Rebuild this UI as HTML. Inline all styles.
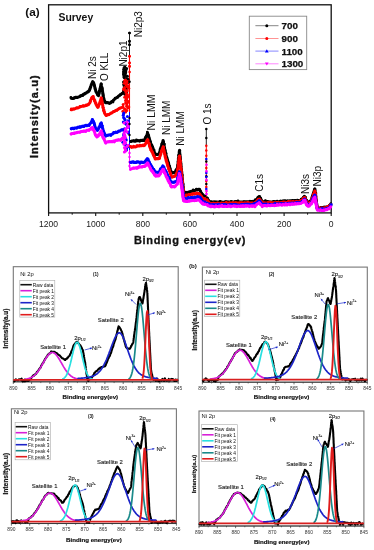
<!DOCTYPE html>
<html><head><meta charset="utf-8"><style>
html,body{margin:0;padding:0;background:#fff;width:374px;height:550px;overflow:hidden}
svg{display:block;will-change:transform}
</style></head><body>
<svg width="374" height="550" viewBox="0 0 374 550">
<rect width="374" height="550" fill="#fff"/>
<rect x="48.6" y="4.8" width="282.59999999999997" height="208.1" fill="none" stroke="#111" stroke-width="1.3"/>
<line x1="48.6" y1="212.9" x2="48.6" y2="216.1" stroke="#111" stroke-width="1.1"/>
<text x="48.6" y="226.5" font-family="Liberation Sans, sans-serif" font-size="8.6" text-anchor="middle" fill="#222">1200</text>
<line x1="95.7" y1="212.9" x2="95.7" y2="216.1" stroke="#111" stroke-width="1.1"/>
<text x="95.7" y="226.5" font-family="Liberation Sans, sans-serif" font-size="8.6" text-anchor="middle" fill="#222">1000</text>
<line x1="142.8" y1="212.9" x2="142.8" y2="216.1" stroke="#111" stroke-width="1.1"/>
<text x="142.8" y="226.5" font-family="Liberation Sans, sans-serif" font-size="8.6" text-anchor="middle" fill="#222">800</text>
<line x1="189.9" y1="212.9" x2="189.9" y2="216.1" stroke="#111" stroke-width="1.1"/>
<text x="189.9" y="226.5" font-family="Liberation Sans, sans-serif" font-size="8.6" text-anchor="middle" fill="#222">600</text>
<line x1="237.0" y1="212.9" x2="237.0" y2="216.1" stroke="#111" stroke-width="1.1"/>
<text x="237.0" y="226.5" font-family="Liberation Sans, sans-serif" font-size="8.6" text-anchor="middle" fill="#222">400</text>
<line x1="284.1" y1="212.9" x2="284.1" y2="216.1" stroke="#111" stroke-width="1.1"/>
<text x="284.1" y="226.5" font-family="Liberation Sans, sans-serif" font-size="8.6" text-anchor="middle" fill="#222">200</text>
<line x1="331.2" y1="212.9" x2="331.2" y2="216.1" stroke="#111" stroke-width="1.1"/>
<text x="331.2" y="226.5" font-family="Liberation Sans, sans-serif" font-size="8.6" text-anchor="middle" fill="#222">0</text>
<line x1="72.2" y1="212.9" x2="72.2" y2="214.70000000000002" stroke="#111" stroke-width="1"/>
<line x1="119.2" y1="212.9" x2="119.2" y2="214.70000000000002" stroke="#111" stroke-width="1"/>
<line x1="166.3" y1="212.9" x2="166.3" y2="214.70000000000002" stroke="#111" stroke-width="1"/>
<line x1="213.4" y1="212.9" x2="213.4" y2="214.70000000000002" stroke="#111" stroke-width="1"/>
<line x1="260.5" y1="212.9" x2="260.5" y2="214.70000000000002" stroke="#111" stroke-width="1"/>
<line x1="307.6" y1="212.9" x2="307.6" y2="214.70000000000002" stroke="#111" stroke-width="1"/>
<text x="190" y="244.3" font-family="Liberation Sans, sans-serif" font-size="11" font-weight="bold" text-anchor="middle" fill="#111" stroke="#111" stroke-width="0.3" letter-spacing="0.7">Binding energy(ev)</text>
<text transform="translate(38.2,116.2) rotate(-90)" font-family="Liberation Sans, sans-serif" font-size="11" font-weight="bold" text-anchor="middle" fill="#111" stroke="#111" stroke-width="0.35" letter-spacing="1.1">Intensity(a.u)</text>
<text x="25.3" y="16.2" font-family="Liberation Sans, sans-serif" font-size="11.8" font-weight="bold" fill="#111">(a)</text>
<text x="58.5" y="21" font-family="Liberation Sans, sans-serif" font-size="10.4" font-weight="bold" fill="#111">Survey</text>
<line x1="129.5" y1="33" x2="129.5" y2="60" stroke="#222" stroke-width="1.0"/>
<line x1="129.5" y1="56" x2="129.5" y2="112" stroke="#f00" stroke-width="1.1"/>
<line x1="129.5" y1="112" x2="129.5" y2="155" stroke="#00f" stroke-width="1.0"/>
<line x1="129.5" y1="150" x2="129.5" y2="168" stroke="#f0f" stroke-width="1.0"/>
<line x1="206.3" y1="129" x2="206.3" y2="146" stroke="#222" stroke-width="1.0"/>
<line x1="206.3" y1="146" x2="206.3" y2="198" stroke="#f00" stroke-width="1.0"/>
<circle cx="124.9" cy="67.0" r="1.5" fill="#000"/>
<circle cx="124.1" cy="67.7" r="1.5" fill="#000"/>
<circle cx="126.6" cy="68.4" r="1.5" fill="#000"/>
<circle cx="123.7" cy="69.2" r="1.5" fill="#000"/>
<circle cx="126.0" cy="69.9" r="1.5" fill="#000"/>
<circle cx="125.1" cy="70.6" r="1.5" fill="#000"/>
<circle cx="123.6" cy="71.3" r="1.5" fill="#000"/>
<circle cx="125.8" cy="72.0" r="1.5" fill="#000"/>
<circle cx="123.5" cy="72.7" r="1.5" fill="#000"/>
<circle cx="125.5" cy="73.5" r="1.5" fill="#000"/>
<circle cx="123.6" cy="74.2" r="1.5" fill="#000"/>
<circle cx="123.8" cy="74.9" r="1.5" fill="#000"/>
<circle cx="125.4" cy="75.6" r="1.5" fill="#000"/>
<circle cx="127.4" cy="76.3" r="1.5" fill="#000"/>
<circle cx="123.9" cy="77.1" r="1.5" fill="#000"/>
<circle cx="124.4" cy="77.8" r="1.5" fill="#000"/>
<circle cx="126.4" cy="78.5" r="1.5" fill="#000"/>
<circle cx="128.0" cy="79.2" r="1.5" fill="#000"/>
<circle cx="126.2" cy="79.9" r="1.5" fill="#000"/>
<circle cx="125.3" cy="80.6" r="1.5" fill="#000"/>
<circle cx="128.2" cy="81.4" r="1.5" fill="#000"/>
<circle cx="123.5" cy="82.1" r="1.5" fill="#000"/>
<circle cx="127.6" cy="82.8" r="1.5" fill="#000"/>
<circle cx="124.7" cy="83.5" r="1.5" fill="#000"/>
<circle cx="124.0" cy="84.2" r="1.5" fill="#000"/>
<circle cx="123.9" cy="84.9" r="1.5" fill="#000"/>
<circle cx="124.8" cy="85.7" r="1.5" fill="#000"/>
<circle cx="127.4" cy="86.4" r="1.5" fill="#000"/>
<circle cx="124.2" cy="87.1" r="1.5" fill="#000"/>
<circle cx="126.2" cy="87.8" r="1.5" fill="#000"/>
<circle cx="126.5" cy="88.5" r="1.5" fill="#000"/>
<circle cx="125.2" cy="89.3" r="1.5" fill="#000"/>
<circle cx="126.0" cy="90.0" r="1.5" fill="#000"/>
<circle cx="123.6" cy="90.7" r="1.5" fill="#000"/>
<circle cx="123.6" cy="91.4" r="1.5" fill="#000"/>
<circle cx="124.3" cy="92.1" r="1.5" fill="#000"/>
<circle cx="126.7" cy="92.8" r="1.5" fill="#000"/>
<circle cx="125.4" cy="93.6" r="1.5" fill="#000"/>
<circle cx="124.9" cy="94.3" r="1.5" fill="#000"/>
<circle cx="126.2" cy="95.0" r="1.5" fill="#000"/>
<circle cx="125.5" cy="80.0" r="1.5" fill="#f00"/>
<circle cx="124.6" cy="80.8" r="1.5" fill="#f00"/>
<circle cx="127.6" cy="81.6" r="1.5" fill="#f00"/>
<circle cx="127.0" cy="82.5" r="1.5" fill="#f00"/>
<circle cx="124.3" cy="83.3" r="1.5" fill="#f00"/>
<circle cx="126.2" cy="84.1" r="1.5" fill="#f00"/>
<circle cx="126.0" cy="84.9" r="1.5" fill="#f00"/>
<circle cx="128.1" cy="85.7" r="1.5" fill="#f00"/>
<circle cx="127.2" cy="86.6" r="1.5" fill="#f00"/>
<circle cx="124.5" cy="87.4" r="1.5" fill="#f00"/>
<circle cx="128.7" cy="88.2" r="1.5" fill="#f00"/>
<circle cx="123.5" cy="89.0" r="1.5" fill="#f00"/>
<circle cx="125.3" cy="89.8" r="1.5" fill="#f00"/>
<circle cx="127.3" cy="90.7" r="1.5" fill="#f00"/>
<circle cx="123.7" cy="91.5" r="1.5" fill="#f00"/>
<circle cx="125.7" cy="92.3" r="1.5" fill="#f00"/>
<circle cx="123.0" cy="93.1" r="1.5" fill="#f00"/>
<circle cx="126.8" cy="93.9" r="1.5" fill="#f00"/>
<circle cx="127.4" cy="94.8" r="1.5" fill="#f00"/>
<circle cx="126.2" cy="95.6" r="1.5" fill="#f00"/>
<circle cx="128.1" cy="96.4" r="1.5" fill="#f00"/>
<circle cx="124.7" cy="97.2" r="1.5" fill="#f00"/>
<circle cx="127.0" cy="98.1" r="1.5" fill="#f00"/>
<circle cx="126.4" cy="98.9" r="1.5" fill="#f00"/>
<circle cx="126.3" cy="99.7" r="1.5" fill="#f00"/>
<circle cx="125.5" cy="100.5" r="1.5" fill="#f00"/>
<circle cx="127.8" cy="101.3" r="1.5" fill="#f00"/>
<circle cx="128.5" cy="102.2" r="1.5" fill="#f00"/>
<circle cx="125.6" cy="103.0" r="1.5" fill="#f00"/>
<circle cx="126.8" cy="103.8" r="1.5" fill="#f00"/>
<circle cx="123.2" cy="104.6" r="1.5" fill="#f00"/>
<circle cx="127.0" cy="105.4" r="1.5" fill="#f00"/>
<circle cx="126.7" cy="106.3" r="1.5" fill="#f00"/>
<circle cx="128.8" cy="107.1" r="1.5" fill="#f00"/>
<circle cx="127.7" cy="107.9" r="1.5" fill="#f00"/>
<circle cx="124.5" cy="108.7" r="1.5" fill="#f00"/>
<circle cx="125.1" cy="109.5" r="1.5" fill="#f00"/>
<circle cx="126.8" cy="110.4" r="1.5" fill="#f00"/>
<circle cx="122.9" cy="111.2" r="1.5" fill="#f00"/>
<circle cx="125.6" cy="112.0" r="1.5" fill="#f00"/>
<circle cx="123.8" cy="113.0" r="1.5" fill="#00f"/>
<circle cx="123.5" cy="114.1" r="1.5" fill="#00f"/>
<circle cx="123.2" cy="115.2" r="1.5" fill="#00f"/>
<circle cx="127.4" cy="116.4" r="1.5" fill="#00f"/>
<circle cx="123.6" cy="117.5" r="1.5" fill="#00f"/>
<circle cx="124.3" cy="118.6" r="1.5" fill="#00f"/>
<circle cx="125.1" cy="119.7" r="1.5" fill="#00f"/>
<circle cx="128.0" cy="120.8" r="1.5" fill="#00f"/>
<circle cx="123.3" cy="122.0" r="1.5" fill="#00f"/>
<circle cx="125.5" cy="123.1" r="1.5" fill="#00f"/>
<circle cx="126.1" cy="124.2" r="1.5" fill="#00f"/>
<circle cx="128.1" cy="125.3" r="1.5" fill="#00f"/>
<circle cx="127.7" cy="126.5" r="1.5" fill="#00f"/>
<circle cx="128.0" cy="127.6" r="1.5" fill="#00f"/>
<circle cx="124.5" cy="128.7" r="1.5" fill="#00f"/>
<circle cx="125.3" cy="129.8" r="1.5" fill="#00f"/>
<circle cx="125.0" cy="130.9" r="1.5" fill="#00f"/>
<circle cx="128.1" cy="132.1" r="1.5" fill="#00f"/>
<circle cx="128.5" cy="133.2" r="1.5" fill="#00f"/>
<circle cx="123.7" cy="134.3" r="1.5" fill="#00f"/>
<circle cx="123.9" cy="135.4" r="1.5" fill="#00f"/>
<circle cx="124.2" cy="136.5" r="1.5" fill="#00f"/>
<circle cx="124.2" cy="137.7" r="1.5" fill="#00f"/>
<circle cx="125.7" cy="138.8" r="1.5" fill="#00f"/>
<circle cx="126.3" cy="139.9" r="1.5" fill="#00f"/>
<circle cx="124.4" cy="141.0" r="1.5" fill="#00f"/>
<circle cx="122.8" cy="142.2" r="1.5" fill="#00f"/>
<circle cx="125.3" cy="143.3" r="1.5" fill="#00f"/>
<circle cx="125.0" cy="144.4" r="1.5" fill="#00f"/>
<circle cx="126.2" cy="145.5" r="1.5" fill="#00f"/>
<circle cx="128.5" cy="146.6" r="1.5" fill="#00f"/>
<circle cx="126.9" cy="147.8" r="1.5" fill="#00f"/>
<circle cx="125.9" cy="148.9" r="1.5" fill="#00f"/>
<circle cx="126.5" cy="150.0" r="1.5" fill="#00f"/>
<circle cx="127.2" cy="122.0" r="1.5" fill="#f0f"/>
<circle cx="124.1" cy="123.1" r="1.5" fill="#f0f"/>
<circle cx="128.3" cy="124.2" r="1.5" fill="#f0f"/>
<circle cx="127.7" cy="125.3" r="1.5" fill="#f0f"/>
<circle cx="128.2" cy="126.4" r="1.5" fill="#f0f"/>
<circle cx="127.8" cy="127.6" r="1.5" fill="#f0f"/>
<circle cx="125.8" cy="128.7" r="1.5" fill="#f0f"/>
<circle cx="125.8" cy="129.8" r="1.5" fill="#f0f"/>
<circle cx="124.3" cy="130.9" r="1.5" fill="#f0f"/>
<circle cx="127.0" cy="132.0" r="1.5" fill="#f0f"/>
<circle cx="124.1" cy="133.1" r="1.5" fill="#f0f"/>
<circle cx="124.1" cy="134.2" r="1.5" fill="#f0f"/>
<circle cx="124.8" cy="135.3" r="1.5" fill="#f0f"/>
<circle cx="124.6" cy="136.4" r="1.5" fill="#f0f"/>
<circle cx="125.5" cy="137.6" r="1.5" fill="#f0f"/>
<circle cx="124.1" cy="138.7" r="1.5" fill="#f0f"/>
<circle cx="123.8" cy="139.8" r="1.5" fill="#f0f"/>
<circle cx="124.6" cy="140.9" r="1.5" fill="#f0f"/>
<circle cx="124.3" cy="142.0" r="1.5" fill="#f0f"/>
<circle cx="125.6" cy="143.1" r="1.5" fill="#f0f"/>
<circle cx="123.9" cy="144.2" r="1.5" fill="#f0f"/>
<circle cx="128.2" cy="145.3" r="1.5" fill="#f0f"/>
<circle cx="126.9" cy="146.4" r="1.5" fill="#f0f"/>
<circle cx="124.5" cy="147.6" r="1.5" fill="#f0f"/>
<circle cx="125.1" cy="148.7" r="1.5" fill="#f0f"/>
<circle cx="125.5" cy="149.8" r="1.5" fill="#f0f"/>
<circle cx="125.6" cy="150.9" r="1.5" fill="#f0f"/>
<circle cx="124.4" cy="152.0" r="1.5" fill="#f0f"/>
<circle cx="129.5" cy="33" r="1.3" fill="#000"/>
<circle cx="129.5" cy="41.6" r="1.3" fill="#000"/>
<circle cx="129.5" cy="44.7" r="1.3" fill="#000"/>
<circle cx="129.6" cy="56.3" r="1.3" fill="#f00"/>
<circle cx="129.6" cy="62.7" r="1.3" fill="#f00"/>
<circle cx="129.6" cy="66.4" r="1.3" fill="#f00"/>
<circle cx="129.6" cy="72" r="1.3" fill="#f00"/>
<circle cx="129.5" cy="153" r="1.2" fill="#f0f"/>
<circle cx="129.5" cy="157" r="1.2" fill="#f0f"/>
<circle cx="129.5" cy="162" r="1.2" fill="#f0f"/>
<circle cx="129.5" cy="166" r="1.2" fill="#f0f"/>
<circle cx="129.5" cy="118" r="1.2" fill="#000"/>
<circle cx="129.5" cy="124" r="1.2" fill="#000"/>
<circle cx="129.5" cy="135" r="1.2" fill="#000"/>
<polyline points="71.2,98.3 72.0,98.4 73.0,98.6 74.0,98.3 75.0,97.5 76.0,97.2 77.0,97.6 78.0,97.1 79.0,96.9 80.0,96.1 80.9,95.6 81.8,95.6 82.7,94.8 83.6,94.0 84.5,94.2 85.4,93.4 86.3,93.1 87.2,91.9 88.1,92.1 88.9,90.7 89.4,90.6 89.7,89.3 90.1,88.2 90.4,87.4 90.8,86.8 91.1,85.3 91.5,84.2 91.9,83.5 92.3,82.3 92.7,81.5 93.2,82.2 93.7,83.1 94.1,84.2 94.4,85.3 94.6,86.3 94.9,87.7 95.1,88.3 95.4,89.5 95.6,90.2 95.9,91.4 96.3,92.0 96.8,93.1 97.3,93.8 97.9,95.3 98.4,95.7 98.7,94.7 98.9,94.0 99.2,93.4 99.5,91.6 99.7,91.3 100.0,89.9 100.2,89.0 100.3,88.3 100.5,86.9 100.7,86.0 100.8,85.2 101.0,84.4 101.2,83.9 101.4,85.3 101.6,86.2 101.8,87.1 102.0,87.9 102.1,88.9 102.3,89.6 102.5,90.7 102.6,91.6 102.8,93.2 102.9,93.8 103.0,94.7 103.2,95.6 103.4,97.3 103.5,98.3 103.8,99.2 104.2,99.9 104.5,100.9 104.8,102.0 105.5,102.7 106.5,102.5 107.5,102.8 108.5,102.7 109.5,103.4 110.4,103.1 111.2,102.1 112.0,101.2 112.8,101.2 113.6,99.9 114.4,99.4 115.2,98.4 116.0,98.1 116.8,97.6 117.7,97.0 118.5,96.1 119.3,95.7 120.2,94.7 121.0,94.3 122.0,93.5 123.0,93.2" fill="none" stroke="#000" stroke-width="3.0" stroke-linejoin="round" stroke-linecap="round"/>
<path d="M70.9,97.4h0M73.8,97.8h0M77.1,97.7h0M80.2,96.4h0M82.9,95.5h0M85.3,93.1h0M88.5,91.4h0M89.9,89.5h0M90.4,87.4h0M92.2,83.8h0M93.4,82.8h0M94.1,85.4h0M95.1,88.9h0M96.1,91.9h0M97.4,94.5h0M98.8,95.1h0M99.3,90.8h0M99.9,88.7h0M100.4,86.6h0M101.2,84.1h0M101.9,87.4h0M102.3,88.7h0M103.0,93.7h0M103.2,95.7h0M104.0,98.4h0M105.0,101.5h0M107.2,102.4h0M110.6,102.6h0M113.0,102.0h0M115.2,98.2h0M117.6,97.3h0M120.4,94.9h0M123.1,92.4h0" stroke="#000" stroke-width="2.8" stroke-linecap="round"/>
<polyline points="130.7,141.4 131.6,141.1 132.6,141.1 133.7,141.0 134.7,141.3 135.7,141.2 136.8,140.7 137.8,140.5 138.8,140.7 139.9,140.9 140.9,140.3 141.9,140.4 143.0,140.2 144.0,140.6 144.7,139.9 145.1,138.5 145.6,137.5 146.0,136.8 146.4,136.0 146.8,135.1 147.3,133.7 147.7,133.1 148.0,134.3 148.3,135.0 148.6,135.9 148.8,136.9 149.1,138.4 149.4,138.9 149.7,140.1 150.0,140.9 150.4,141.9 150.7,143.2 151.1,144.3 151.5,144.7 151.9,145.5 152.2,147.0 152.6,147.4 153.0,148.2 153.4,150.0 153.7,150.5 154.1,151.8 154.5,152.4 154.8,153.8 155.2,154.4 155.9,154.5 157.0,154.2 158.0,154.4 159.0,154.2 159.4,153.6 159.7,151.8 160.0,151.3 160.2,150.1 160.5,149.2 160.8,147.9 161.1,147.1 161.4,146.3 161.7,145.6 162.0,143.9 162.2,143.3 162.5,142.6 162.8,141.7 163.1,140.4 163.3,141.0 163.5,142.7 163.7,143.8 163.9,144.3 164.1,145.0 164.3,146.8 164.5,147.3 164.7,148.8 164.9,149.5 165.1,150.7 165.3,151.1 165.5,152.7 165.7,153.2 165.9,154.4 166.1,155.8 166.4,156.8 166.7,157.1 167.0,158.2 167.3,159.3 167.6,160.4 167.9,161.2 168.2,162.0 168.5,163.0 168.8,164.4 169.1,165.6 169.4,165.8 169.6,167.2 169.9,168.4 170.2,168.7 170.5,170.4 170.8,170.7 171.1,172.1 171.5,172.8 172.4,172.9 173.5,172.4 174.5,172.3 175.3,171.9 175.8,170.8 176.4,170.1 176.9,168.9 177.4,167.9 177.6,166.6 177.7,166.1 177.8,164.9 178.0,163.7 178.1,163.2 178.2,162.1 178.3,160.8 178.4,159.6 178.5,158.8 178.6,157.5 178.8,156.5 178.9,155.7 179.0,154.4 179.1,153.7 179.2,152.8 179.3,151.3 179.4,150.8 179.6,150.3 179.7,151.9 179.8,153.0 179.9,153.8 180.0,154.4 180.1,155.8 180.2,156.7 180.3,158.2 180.4,158.5 180.5,160.2 180.6,161.3 180.7,162.1 180.8,163.2 180.9,163.6 181.0,165.4 181.1,165.9 181.2,167.4 181.3,168.3 181.4,168.7 181.5,170.3 181.6,171.4 181.7,171.6 181.8,172.9 181.9,174.2 182.0,174.7 182.1,176.4 182.2,176.8 182.2,178.3 182.3,178.7 182.4,180.0 182.5,181.4 182.6,181.7 182.7,182.8 182.8,184.0 182.9,184.8 183.0,185.6 183.1,186.7 183.2,187.7 183.3,189.4 183.4,190.2 183.5,191.4 183.6,191.7 184.2,192.8 185.3,192.2 186.4,192.5 187.5,192.5 188.5,192.0 189.5,192.2 190.4,191.6 191.4,191.3 192.4,191.3 193.4,190.4 194.4,190.9 195.4,190.3 196.3,189.8 197.3,189.9 198.3,189.2 199.2,189.7 199.8,190.1 200.3,190.7 200.7,192.0 201.2,192.6 201.7,193.2 202.2,194.6 202.7,194.9 203.2,196.4 203.9,196.2 205.0,196.3" fill="none" stroke="#000" stroke-width="3.0" stroke-linejoin="round" stroke-linecap="round"/>
<path d="M131.1,141.5h0M133.8,140.7h0M136.4,139.9h0M139.6,141.1h0M142.9,140.2h0M145.5,137.8h0M146.2,136.3h0M147.3,132.2h0M148.4,135.2h0M149.3,138.4h0M150.4,142.0h0M151.3,144.9h0M152.6,146.8h0M154.1,150.1h0M154.6,153.1h0M157.1,154.8h0M159.6,153.4h0M160.1,149.2h0M161.2,147.2h0M161.8,144.2h0M162.8,142.5h0M163.7,142.3h0M164.4,144.1h0M164.7,148.6h0M165.1,150.4h0M166.1,153.5h0M166.8,157.9h0M167.3,159.8h0M168.6,163.1h0M169.5,166.3h0M170.0,168.3h0M170.9,171.3h0M173.8,172.9h0M176.0,169.9h0M177.7,168.4h0M177.8,165.4h0M178.1,161.7h0M178.2,158.3h0M178.5,155.4h0M179.4,153.1h0M179.8,150.7h0M179.7,153.9h0M180.1,157.2h0M180.5,159.7h0M180.9,164.0h0M180.9,166.6h0M181.0,168.3h0M181.5,172.0h0M182.3,175.1h0M182.1,179.0h0M182.4,180.9h0M183.1,184.2h0M183.2,187.0h0M183.7,190.1h0M184.4,193.1h0M187.8,192.4h0M190.6,191.7h0M193.2,189.9h0M196.4,189.1h0M199.5,189.1h0M200.4,191.3h0M202.5,194.3h0M203.6,195.4h0" stroke="#000" stroke-width="2.8" stroke-linecap="round"/>
<polyline points="207.1,198.1 207.6,199.2 208.1,199.7 208.7,200.6 209.2,201.6 210.0,202.2 211.0,201.7 212.0,201.9 213.0,201.9 214.0,202.0 215.0,202.3 216.0,201.8 217.0,202.3 218.0,201.9 219.0,202.0 220.0,201.8 221.0,202.0 222.0,202.4 223.0,202.1 224.0,202.3 225.0,201.8 226.0,201.8 227.0,201.8 228.0,202.1 229.0,202.1 230.0,202.3 231.0,201.6 232.0,202.2 233.0,202.3 234.0,202.0 235.0,201.5 236.0,201.7 237.0,201.4 238.0,201.6 239.0,202.2 240.0,201.9 241.0,201.9 242.0,202.0 243.0,202.1 244.0,201.8 245.0,201.8 246.0,201.8 247.0,201.8 248.0,201.7 249.0,201.8 250.0,201.3 251.0,201.7 252.0,201.5 253.0,201.8 254.0,201.2 254.9,201.1 255.6,200.2 256.3,200.1 256.9,199.3 257.6,198.3 258.2,197.2 258.9,196.7 259.4,196.7 259.9,197.4 260.4,198.1 260.8,199.0 261.3,200.1 261.8,200.9 262.5,201.5 263.5,201.7 264.5,202.0 265.5,201.3 266.5,201.8 267.5,201.4 268.5,201.6 269.5,202.2 270.5,202.0 271.5,202.3 272.5,201.8 273.5,201.4 274.5,201.7 275.5,201.8 276.5,202.1 277.5,202.1 278.5,201.6 279.5,201.4 280.5,201.1 281.5,201.6 282.5,201.1 283.5,201.0 284.5,200.8 285.5,200.8 286.5,201.3 287.5,200.8 288.5,201.5 289.5,200.7 290.5,201.3 291.5,200.6 292.5,200.4 293.5,201.0 294.5,200.5 295.5,200.9 296.5,200.4 297.5,200.2 298.5,200.8 299.5,200.7 300.5,200.5 301.5,199.8 302.4,198.6 303.1,198.2 303.7,197.4 304.3,196.3 304.8,196.8 305.1,197.2 305.5,198.9 305.8,199.7 306.3,200.0 306.9,200.8 307.4,202.3 308.0,203.0 308.9,202.1 309.7,201.7 310.6,201.5 311.2,200.2 311.5,199.8 311.8,198.5 312.1,197.1 312.4,196.4 312.7,195.6 313.0,194.4 313.3,193.7 313.7,192.2 314.0,191.7 314.3,190.3 314.6,189.6 314.9,188.9 315.0,189.3 315.1,190.3 315.2,191.7 315.4,192.8 315.5,193.7 315.6,194.5 315.7,195.3 315.8,196.1 315.9,197.9 316.0,198.7 316.1,199.8 316.3,200.3 316.4,201.6 316.5,202.9 316.6,203.8 316.8,204.6 316.9,205.3 317.0,206.4 317.1,207.8 317.7,207.9 318.8,208.1 319.8,207.9 320.8,208.1 321.9,208.0 322.9,207.4 324.0,207.1 325.0,207.2 326.0,207.1 327.0,206.9 328.0,206.8 329.0,206.5 329.8,205.1 330.2,204.8 330.8,203.8" fill="none" stroke="#000" stroke-width="3.0" stroke-linejoin="round" stroke-linecap="round"/>
<path d="M207.4,198.2h0M208.5,201.3h0M211.2,202.1h0M214.3,201.8h0M216.7,202.4h0M220.2,201.3h0M223.2,202.9h0M225.8,202.0h0M229.1,202.1h0M231.8,201.7h0M235.2,202.0h0M238.0,200.8h0M241.2,202.4h0M243.8,202.0h0M247.3,202.5h0M250.0,201.3h0M253.1,201.2h0M255.4,199.7h0M257.7,198.0h0M259.5,196.5h0M260.8,198.4h0M262.1,202.4h0M265.4,200.6h0M268.6,202.1h0M271.2,202.5h0M274.4,201.7h0M277.1,201.2h0M280.9,201.8h0M283.5,201.1h0M286.3,201.8h0M289.4,201.5h0M292.7,201.0h0M295.9,200.5h0M298.1,200.3h0M301.2,199.1h0M303.3,197.5h0M305.4,197.1h0M306.6,200.7h0M307.7,203.2h0M310.5,200.8h0M312.1,198.1h0M312.8,195.8h0M314.0,192.5h0M314.5,189.5h0M314.9,191.2h0M315.9,193.2h0M315.4,195.6h0M316.0,200.5h0M316.8,203.5h0M316.5,205.8h0M317.9,208.1h0M321.2,207.3h0M323.7,207.6h0M327.4,207.2h0M329.6,205.3h0" stroke="#000" stroke-width="2.8" stroke-linecap="round"/>
<polyline points="71.2,109.8 72.0,109.7 73.0,108.9 74.0,108.7 75.0,108.8 76.0,108.2 77.0,107.8 78.0,108.0 79.0,107.5 80.0,106.9 81.0,106.5 82.0,106.3 83.0,106.0 84.0,106.2 85.0,105.8 86.0,105.6 87.0,105.2 88.0,104.9 88.9,103.8 89.4,103.4 89.8,102.8 90.3,101.8 90.7,100.2 91.1,99.4 91.5,98.6 92.0,97.4 92.5,96.9 93.1,97.1 93.7,98.4 94.2,99.5 94.6,100.1 95.0,101.2 95.4,102.9 95.8,103.7 96.2,104.8 96.8,105.4 97.2,106.5 97.8,107.4 98.2,107.3 98.5,105.6 98.9,105.1 99.3,103.8 99.6,103.2 100.0,101.8 100.3,101.0 100.6,100.4 100.9,99.1 101.2,97.8 101.4,98.0 101.6,98.9 101.8,100.4 101.9,100.8 102.1,101.8 102.3,103.1 102.5,103.7 102.7,105.1 102.9,106.4 103.1,107.0 103.4,107.8 103.6,109.0 103.8,110.0 104.0,110.7 104.2,111.7 104.5,112.7 104.9,113.7 105.5,114.8 106.1,115.4 106.9,115.1 107.8,114.4 108.7,114.4 109.6,114.1 110.5,113.4 111.5,112.9 112.4,112.5 113.3,111.6 114.2,111.6 115.1,110.9 116.0,110.4 117.0,110.0 117.9,109.4 118.9,108.8 119.8,108.3 120.8,107.8 121.7,107.6 122.9,107.1" fill="none" stroke="#f00" stroke-width="3.0" stroke-linejoin="round" stroke-linecap="round"/>
<path d="M71.3,108.9h0M73.9,109.3h0M76.8,107.9h0M80.0,106.5h0M83.4,105.7h0M86.2,105.0h0M88.6,104.5h0M90.2,101.0h0M91.5,98.5h0M93.3,96.4h0M94.4,100.9h0M96.0,103.1h0M97.1,106.2h0M98.7,105.8h0M99.9,103.7h0M100.6,100.8h0M101.6,98.5h0M101.9,101.3h0M102.7,104.4h0M102.8,107.7h0M103.4,110.5h0M104.5,112.7h0M106.4,115.5h0M108.7,114.9h0M111.8,113.1h0M114.1,111.5h0M116.9,110.4h0M119.6,108.1h0M122.9,106.9h0" stroke="#f00" stroke-width="2.8" stroke-linecap="round"/>
<polyline points="130.7,146.6 131.6,147.4 132.6,147.0 133.7,146.3 134.7,146.8 135.7,146.9 136.8,146.4 137.8,145.8 138.8,146.1 139.9,145.9 140.9,145.6 141.9,145.7 143.0,145.1 144.0,145.8 144.7,145.1 145.2,144.2 145.7,143.6 146.2,142.4 146.7,141.2 147.2,140.3 147.7,139.6 148.0,140.2 148.3,141.8 148.6,142.9 148.9,143.4 149.2,144.3 149.5,145.6 149.8,146.8 150.2,147.9 150.6,148.1 151.0,149.6 151.5,150.6 151.9,151.4 152.3,152.0 152.7,152.8 153.1,154.3 153.5,154.8 153.9,155.8 154.4,156.9 154.8,157.7 155.2,159.0 155.9,158.9 157.0,158.5 158.0,158.8 159.0,158.5 159.4,157.8 159.8,156.8 160.1,156.0 160.4,155.0 160.8,153.7 161.1,152.7 161.4,151.4 161.8,150.6 162.1,149.9 162.4,148.5 162.8,148.0 163.1,146.9 163.3,147.9 163.5,149.3 163.8,149.6 164.0,150.5 164.2,151.9 164.4,152.7 164.7,154.2 164.9,154.5 165.1,156.3 165.3,157.3 165.6,158.2 165.8,158.9 166.0,159.8 166.3,161.1 166.6,161.9 166.9,162.8 167.2,163.7 167.5,164.7 167.9,165.9 168.2,167.0 168.5,168.0 168.8,168.3 169.1,169.4 169.4,170.4 169.7,171.5 170.0,172.3 170.3,173.1 170.6,173.9 170.9,175.1 171.2,176.2 171.9,177.0 172.9,176.8 174.0,176.5 174.9,176.3 175.6,175.5 176.1,174.3 176.7,173.6 177.2,172.0 177.6,171.6 177.7,170.6 177.8,169.3 177.9,168.5 178.1,167.8 178.2,166.4 178.3,165.5 178.4,164.2 178.6,163.2 178.7,162.7 178.8,160.9 178.9,160.0 179.1,159.4 179.2,158.2 179.3,156.9 179.4,156.4 179.6,156.1 179.7,157.3 179.8,158.2 179.9,159.3 180.0,160.3 180.1,161.2 180.2,162.0 180.3,163.0 180.4,164.7 180.6,165.4 180.7,166.0 180.8,167.7 180.9,168.2 181.0,169.1 181.1,170.5 181.2,171.2 181.3,172.5 181.4,173.5 181.5,174.3 181.7,175.6 181.8,176.2 181.8,177.5 182.0,178.6 182.0,179.2 182.2,180.5 182.2,181.2 182.3,182.5 182.5,183.9 182.5,184.6 182.7,185.8 182.8,186.9 182.8,187.3 183.0,189.1 183.0,189.8 183.2,190.3 183.2,192.0 183.3,192.6 183.5,193.4 183.5,195.1 184.2,195.3 185.3,195.4 186.4,194.9 187.5,195.4 188.5,194.6 189.6,194.5 190.6,194.5 191.6,194.0 192.6,194.4 193.7,193.9 194.7,193.8 195.7,194.0 196.7,193.6 197.8,193.8 198.8,193.4 199.6,194.0 200.1,194.5 200.7,195.7 201.2,196.5 201.8,196.7 202.3,198.0 202.9,198.5 203.5,199.6 204.5,199.4 205.2,199.4" fill="none" stroke="#f00" stroke-width="3.0" stroke-linejoin="round" stroke-linecap="round"/>
<path d="M130.4,146.3h0M133.9,147.1h0M136.9,145.6h0M139.9,145.2h0M143.0,145.7h0M144.9,144.9h0M146.9,140.7h0M147.8,140.1h0M149.2,143.5h0M149.5,146.0h0M150.7,150.1h0M152.0,152.1h0M153.4,155.2h0M154.7,157.0h0M157.3,158.6h0M159.6,158.4h0M160.8,154.2h0M161.3,150.8h0M162.4,149.1h0M163.6,147.0h0M163.7,151.1h0M164.8,154.0h0M165.3,156.7h0M166.3,159.6h0M167.2,163.0h0M167.5,165.6h0M168.6,169.0h0M169.8,170.7h0M170.4,173.7h0M171.9,177.2h0M174.8,176.0h0M176.3,173.8h0M177.6,169.7h0M178.0,168.7h0M178.1,163.5h0M178.9,160.5h0M179.0,158.2h0M179.4,156.2h0M179.9,160.1h0M180.6,161.1h0M180.6,165.9h0M181.2,168.7h0M181.3,171.5h0M181.4,173.9h0M182.1,178.2h0M182.5,180.8h0M182.3,184.4h0M182.9,186.9h0M183.2,189.6h0M183.4,192.4h0M183.8,195.0h0M187.4,196.2h0M190.6,194.3h0M193.5,193.4h0M196.6,192.9h0M199.2,194.6h0M201.2,196.4h0M202.9,198.2h0M205.0,198.6h0" stroke="#f00" stroke-width="2.8" stroke-linecap="round"/>
<polyline points="207.2,199.9 207.6,200.6 208.2,201.5 208.9,202.3 209.6,203.2 210.5,203.8 211.5,203.5 212.5,203.4 213.5,203.1 214.5,203.4 215.5,203.9 216.5,203.6 217.5,203.4 218.5,203.4 219.5,203.7 220.5,203.6 221.5,203.1 222.5,203.5 223.5,203.2 224.5,203.4 225.5,203.1 226.5,203.2 227.5,203.2 228.5,203.2 229.5,202.8 230.5,203.0 231.5,203.3 232.5,202.8 233.5,202.9 234.5,203.4 235.5,203.0 236.5,203.0 237.5,203.0 238.5,203.5 239.5,202.8 240.5,203.3 241.5,203.5 242.5,202.9 243.5,203.1 244.5,203.4 245.5,203.2 246.5,203.0 247.5,202.7 248.5,203.0 249.5,202.9 250.5,203.2 251.5,202.9 252.5,202.9 253.5,203.1 254.5,203.3 255.3,202.5 256.1,201.8 256.8,201.2 257.4,200.8 258.2,199.3 258.8,199.3 259.5,199.1 260.0,199.7 260.6,200.9 261.2,201.5 261.7,202.2 262.5,203.2 263.5,202.9 264.5,203.0 265.5,203.0 266.5,203.4 267.5,203.2 268.5,202.6 269.5,203.1 270.5,202.9 271.5,202.9 272.5,203.2 273.5,202.7 274.5,202.8 275.5,203.1 276.5,202.6 277.5,202.6 278.5,202.6 279.5,202.8 280.5,202.6 281.5,202.6 282.5,202.3 283.5,201.9 284.5,202.4 285.5,202.3 286.5,202.4 287.5,202.4 288.5,201.7 289.5,201.8 290.5,201.6 291.5,202.2 292.5,201.5 293.5,201.5 294.5,202.0 295.5,201.8 296.5,201.3 297.5,201.8 298.5,201.8 299.5,201.5 300.5,200.8 301.5,200.8 302.4,199.9 303.1,199.2 303.7,198.7 304.3,197.7 304.8,197.8 305.1,198.2 305.5,199.4 305.8,200.5 306.3,201.0 306.9,202.7 307.4,202.9 308.0,203.5 308.9,203.3 309.7,202.6 310.6,202.6 311.2,201.6 311.5,200.5 311.9,199.4 312.2,198.1 312.6,197.3 313.0,196.8 313.3,195.8 313.7,194.8 314.1,193.3 314.5,192.2 314.9,191.4 315.0,192.5 315.2,193.4 315.3,194.5 315.4,195.5 315.6,196.6 315.7,197.4 315.9,198.8 316.0,199.2 316.1,200.9 316.3,201.6 316.4,202.1 316.5,203.3 316.7,204.5 316.8,205.4 316.9,206.6 317.1,207.3 317.4,208.1 318.2,208.7 319.3,208.2 320.3,208.5 321.4,208.5 322.4,208.2 323.4,208.1 324.5,208.4 325.5,207.8 326.5,207.8 327.5,206.8 328.5,206.8 329.4,206.5 330.1,205.1 330.7,204.8" fill="none" stroke="#f00" stroke-width="3.0" stroke-linejoin="round" stroke-linecap="round"/>
<path d="M206.8,200.1h0M208.6,203.0h0M211.5,204.0h0M214.5,203.7h0M217.6,203.0h0M220.3,204.2h0M223.2,204.0h0M226.3,202.5h0M229.2,203.4h0M232.9,202.7h0M235.6,202.6h0M238.8,203.8h0M241.2,202.7h0M244.7,202.6h0M247.8,202.3h0M250.3,203.4h0M253.4,203.3h0M255.8,202.5h0M258.0,200.0h0M259.8,200.3h0M262.1,202.0h0M264.1,202.8h0M267.6,202.7h0M270.5,202.2h0M273.5,203.2h0M276.4,202.9h0M279.2,203.4h0M282.2,203.0h0M285.9,203.1h0M288.5,201.4h0M291.4,202.7h0M294.5,202.8h0M297.2,201.8h0M300.8,201.0h0M303.1,198.5h0M304.5,197.4h0M306.1,201.1h0M307.2,203.7h0M309.3,202.8h0M311.9,200.2h0M313.0,197.6h0M313.3,194.5h0M314.8,191.0h0M315.5,193.9h0M316.0,197.0h0M315.8,201.0h0M316.2,203.4h0M317.2,206.7h0M318.2,207.9h0M321.4,207.8h0M324.6,207.8h0M327.6,206.5h0M330.0,205.4h0" stroke="#f00" stroke-width="2.8" stroke-linecap="round"/>
<polyline points="71.2,128.7 72.0,128.3 73.0,128.3 74.0,128.4 75.0,128.0 76.0,128.0 77.0,127.9 78.0,127.1 79.0,127.4 80.0,126.6 81.0,127.1 82.0,126.3 82.9,126.1 83.9,126.5 84.9,125.7 85.9,125.4 86.9,125.7 87.8,125.2 88.8,125.3 89.6,124.2 90.3,123.4 91.0,122.9 91.5,121.5 92.0,120.9 92.5,119.6 92.9,120.8 93.4,121.2 93.8,122.5 94.1,123.1 94.5,124.2 94.8,125.9 95.0,126.5 95.4,127.8 95.8,128.2 96.4,129.1 97.0,129.7 97.6,130.1 98.1,129.5 98.7,128.3 99.2,127.3 99.7,126.9 100.1,125.9 100.5,124.6 100.9,123.1 101.3,122.9 101.5,123.4 101.7,124.9 102.0,125.4 102.2,126.6 102.4,127.6 102.7,128.4 103.0,129.5 103.4,130.7 103.7,131.9 104.1,132.5 104.4,133.4 104.8,134.9 105.1,135.1 105.8,136.1 106.8,135.7 107.9,135.3 108.9,134.9 109.9,134.8 111.0,134.7 112.0,134.2 112.9,133.8 113.9,132.8 114.8,132.7 115.8,132.1 116.7,132.5 117.7,132.0 118.6,131.0 119.6,131.0 120.5,130.6 121.6,129.8 122.5,130.0" fill="none" stroke="#00f" stroke-width="3.0" stroke-linejoin="round" stroke-linecap="round"/>
<path d="M71.4,128.9h0M73.8,128.9h0M76.8,128.0h0M79.9,127.4h0M83.1,126.6h0M86.0,125.1h0M89.2,125.6h0M91.1,122.5h0M92.2,119.7h0M94.0,123.1h0M94.6,125.3h0M95.8,128.9h0M97.3,130.5h0M99.0,127.0h0M100.1,124.3h0M101.4,124.3h0M102.5,126.1h0M102.9,130.3h0M103.8,132.2h0M105.1,134.4h0M107.7,135.1h0M110.9,135.5h0M113.7,132.3h0M117.0,132.4h0M119.8,131.2h0M122.7,129.6h0" stroke="#00f" stroke-width="2.8" stroke-linecap="round"/>
<polyline points="130.7,162.2 131.6,162.4 132.6,161.8 133.7,161.8 134.7,162.6 135.7,162.5 136.8,161.8 137.8,161.8 138.8,162.0 139.9,162.6 140.9,161.9 141.9,162.4 143.0,162.6 144.0,162.3 144.9,162.2 145.6,160.8 146.3,159.8 147.0,158.9 147.7,159.0 148.1,159.1 148.5,160.9 149.0,161.7 149.4,162.2 149.8,163.8 150.3,164.1 150.9,165.3 151.4,165.8 152.0,167.3 152.6,168.3 153.1,169.2 153.7,169.2 154.3,170.9 154.8,171.5 155.5,172.4 156.5,172.2 157.5,172.2 158.6,172.1 159.4,171.8 160.0,170.3 160.5,169.4 161.1,168.9 161.7,167.8 162.2,167.0 162.8,165.8 163.3,166.5 163.8,166.8 164.2,168.5 164.7,169.4 165.1,170.1 165.6,170.7 166.0,172.1 166.5,172.6 166.9,173.8 167.4,174.4 167.9,176.1 168.3,176.6 168.8,177.3 169.3,178.0 169.8,179.5 170.2,180.5 170.7,181.4 171.2,181.7 171.9,182.3 172.9,182.1 174.0,182.4 175.0,181.6 175.8,181.4 176.7,181.1 177.4,180.2 177.7,178.5 178.0,177.6 178.2,176.6 178.4,176.1 178.7,175.0 178.9,173.9 179.1,172.9 179.4,171.8 179.6,172.0 179.8,173.0 180.0,174.3 180.2,175.1 180.4,176.2 180.5,177.3 180.7,178.3 180.9,179.2 181.1,179.6 181.3,181.2 181.5,182.3 181.6,182.9 181.8,184.4 181.9,184.7 182.0,186.4 182.1,187.0 182.3,188.2 182.4,188.8 182.5,189.9 182.6,190.9 182.8,191.9 182.9,192.7 183.0,194.0 183.2,195.5 183.3,196.2 183.4,197.5 183.5,198.3 184.2,198.9 185.3,199.0 186.4,198.8 187.5,198.3 188.5,198.1 189.6,198.1 190.6,197.6 191.6,197.6 192.6,198.0 193.7,197.8 194.7,197.1 195.7,197.4 196.7,197.2 197.8,197.1 198.8,196.9 199.6,197.0 200.2,197.4 200.8,198.9 201.4,199.3 201.9,200.5 202.5,201.1 203.1,202.1 203.9,202.8 205.0,201.8" fill="none" stroke="#00f" stroke-width="3.0" stroke-linejoin="round" stroke-linecap="round"/>
<path d="M130.7,162.5h0M133.7,162.6h0M136.7,162.5h0M140.0,163.4h0M142.6,162.1h0M145.4,161.5h0M147.3,158.6h0M149.1,162.6h0M150.0,164.0h0M152.1,167.7h0M153.9,169.7h0M155.3,172.0h0M158.2,172.5h0M160.3,169.0h0M162.6,167.3h0M163.8,167.1h0M165.2,170.4h0M166.3,171.9h0M167.5,175.2h0M169.2,177.4h0M170.4,181.4h0M173.3,182.4h0M175.7,181.9h0M177.5,177.8h0M178.3,176.0h0M179.3,172.8h0M180.0,172.3h0M180.7,175.9h0M181.2,178.3h0M181.8,181.8h0M182.2,185.3h0M182.4,187.8h0M182.3,190.4h0M183.4,193.4h0M183.5,197.6h0M185.4,198.5h0M188.3,197.4h0M192.0,197.4h0M194.8,197.3h0M197.5,196.3h0M199.8,198.1h0M201.6,201.3h0M203.8,203.2h0" stroke="#00f" stroke-width="2.8" stroke-linecap="round"/>
<polyline points="207.2,203.4 207.8,203.9 208.7,204.1 209.5,204.5 210.5,205.1 211.5,205.0 212.5,204.6 213.5,204.7 214.5,205.0 215.5,204.6 216.5,205.0 217.5,204.7 218.5,204.7 219.5,204.8 220.5,204.9 221.5,205.1 222.5,204.4 223.5,205.0 224.5,204.6 225.5,204.6 226.5,204.9 227.5,205.0 228.5,204.9 229.5,205.1 230.5,204.5 231.5,204.6 232.5,204.9 233.5,204.5 234.5,204.4 235.5,204.5 236.5,204.9 237.5,205.0 238.5,204.9 239.5,205.1 240.5,204.9 241.5,204.5 242.5,204.5 243.5,204.8 244.5,204.2 245.5,204.7 246.5,204.2 247.5,204.2 248.5,204.6 249.5,204.2 250.5,204.9 251.5,204.9 252.5,204.5 253.5,204.2 254.5,204.2 255.4,204.1 256.1,203.4 256.9,202.6 257.7,202.1 258.4,201.3 259.2,201.0 259.8,201.0 260.4,201.9 261.1,203.1 261.7,204.0 262.5,204.3 263.5,204.7 264.5,204.2 265.5,204.3 266.5,204.5 267.5,204.7 268.5,204.7 269.5,204.4 270.5,204.4 271.5,204.8 272.5,204.8 273.5,204.4 274.5,203.9 275.5,204.2 276.5,204.3 277.5,203.9 278.5,203.7 279.5,204.5 280.5,204.3 281.5,203.6 282.5,203.8 283.5,203.9 284.5,203.6 285.5,203.3 286.5,203.9 287.5,203.9 288.5,203.5 289.5,203.2 290.5,203.4 291.5,203.1 292.5,203.8 293.5,202.9 294.5,203.1 295.5,203.5 296.5,202.8 297.5,202.8 298.5,202.7 299.5,202.7 300.5,202.7 301.5,202.4 302.4,201.2 303.2,200.4 303.9,200.1 304.6,199.2 305.0,199.9 305.4,200.7 305.8,201.8 306.3,203.4 306.9,203.4 307.4,204.4 308.0,205.5 308.9,205.3 309.7,204.7 310.6,203.8 311.2,203.4 311.6,202.2 312.0,201.0 312.3,200.2 312.7,199.5 313.1,198.6 313.5,197.2 314.1,196.2 314.6,195.9 315.0,195.1 315.1,196.8 315.3,197.4 315.5,198.3 315.6,199.3 315.8,200.5 316.0,201.9 316.1,202.2 316.3,203.8 316.4,204.3 316.6,205.2 316.8,206.7 316.9,207.4 317.1,208.2 317.7,208.9 318.8,209.3 319.8,209.3 320.8,209.1 321.9,208.6 322.9,209.2 324.0,209.1 325.0,209.3 326.0,209.1 327.0,208.2 328.0,208.3 329.0,208.0 329.8,206.8 330.4,205.9 330.9,205.1" fill="none" stroke="#00f" stroke-width="3.0" stroke-linejoin="round" stroke-linecap="round"/>
<path d="M207.1,203.2h0M209.2,204.0h0M212.8,204.5h0M215.6,205.3h0M218.7,204.2h0M221.8,205.6h0M224.9,205.0h0M227.7,205.5h0M230.3,204.8h0M233.4,205.1h0M236.2,205.0h0M239.4,205.7h0M242.4,205.1h0M245.8,205.4h0M248.2,205.4h0M251.7,205.2h0M254.6,203.3h0M257.2,202.6h0M259.1,200.7h0M261.3,203.6h0M263.8,204.1h0M266.4,204.0h0M269.2,204.1h0M272.1,205.3h0M275.3,203.4h0M278.2,204.1h0M281.3,203.5h0M284.4,204.1h0M287.9,203.5h0M290.6,204.1h0M293.5,203.6h0M296.7,202.5h0M299.8,202.9h0M302.1,201.3h0M304.8,199.3h0M305.8,201.6h0M307.7,204.7h0M309.5,204.5h0M311.5,203.0h0M312.9,198.9h0M314.4,195.4h0M315.2,196.7h0M315.8,199.2h0M315.8,202.2h0M316.9,205.7h0M317.0,207.7h0M320.0,209.9h0M322.7,209.9h0M326.4,209.0h0M328.9,208.3h0M331.2,204.6h0" stroke="#00f" stroke-width="2.8" stroke-linecap="round"/>
<polyline points="71.2,134.1 72.0,133.5 73.0,133.4 74.0,133.6 75.0,133.1 76.0,132.8 77.0,132.4 78.0,132.3 79.0,132.3 80.0,132.3 81.0,131.6 82.0,131.5 82.9,131.3 83.9,131.0 84.9,131.3 85.9,130.8 86.9,130.3 87.8,130.2 88.8,130.4 89.7,129.4 90.5,129.3 91.3,128.1 92.1,127.6 92.7,127.6 93.1,129.3 93.6,129.7 94.0,130.8 94.4,131.6 94.8,132.8 95.1,134.2 95.6,135.2 96.2,136.1 96.9,136.9 97.6,136.5 98.2,136.0 98.9,134.5 99.5,134.4 100.1,132.9 100.7,131.7 101.2,131.6 101.5,132.3 101.8,132.9 102.0,133.6 102.3,135.3 102.5,136.2 102.9,137.0 103.3,138.3 103.7,138.4 104.1,139.3 104.5,140.3 104.9,141.1 105.4,142.5 106.3,142.5 107.4,141.8 108.4,141.7 109.4,141.6 110.5,141.8 111.5,141.7 112.5,141.8 113.5,141.0 114.5,141.3 115.5,140.5 116.5,140.2 117.5,139.9 118.5,139.6 119.5,140.0 120.5,139.7 121.5,139.1 122.5,138.1 123.2,137.8" fill="none" stroke="#f0f" stroke-width="3.0" stroke-linejoin="round" stroke-linecap="round"/>
<path d="M71.0,133.8h0M74.2,132.8h0M77.0,132.8h0M79.6,132.1h0M83.2,131.4h0M85.8,131.5h0M88.9,130.1h0M91.2,128.9h0M93.4,130.0h0M94.4,131.0h0M95.3,134.9h0M97.8,135.6h0M99.7,134.9h0M101.3,130.7h0M102.3,133.5h0M103.0,137.1h0M104.3,139.2h0M105.8,143.3h0M108.7,141.9h0M111.3,141.5h0M114.3,142.0h0M117.7,140.4h0M120.8,140.6h0M123.4,137.5h0" stroke="#f0f" stroke-width="2.8" stroke-linecap="round"/>
<polyline points="130.7,168.8 131.6,168.7 132.6,168.4 133.6,167.9 134.6,168.2 135.6,167.8 136.6,167.9 137.6,167.2 138.5,167.8 139.5,166.8 140.5,166.9 141.5,166.9 142.5,166.5 143.5,166.3 144.5,166.6 145.2,166.1 145.9,164.8 146.6,163.9 147.3,163.5 147.9,163.1 148.3,164.2 148.7,165.4 149.2,166.1 149.6,166.8 150.0,167.6 150.6,168.9 151.1,170.1 151.7,170.9 152.3,171.0 152.8,172.2 153.4,173.0 154.0,173.6 154.5,174.9 155.1,175.6 155.9,176.2 157.0,175.6 158.0,176.0 159.0,175.7 159.6,174.6 160.2,173.4 160.7,172.8 161.2,171.5 161.8,171.1 162.3,170.2 162.8,169.2 163.3,169.6 163.7,169.8 164.1,171.3 164.5,172.4 164.8,172.7 165.2,173.9 165.6,174.6 166.0,176.1 166.5,177.1 166.9,177.7 167.3,178.9 167.8,179.5 168.2,180.7 168.7,181.2 169.2,182.8 169.6,183.2 170.1,183.7 170.5,184.7 171.0,186.2 171.5,187.1 172.4,186.9 173.5,186.4 174.5,186.9 175.4,186.3 176.1,185.1 176.8,184.6 177.4,184.1 177.7,182.5 177.9,181.6 178.1,180.8 178.3,180.3 178.5,179.4 178.6,177.8 178.8,177.3 179.0,176.2 179.2,175.2 179.4,174.0 179.6,174.3 179.7,175.0 179.9,176.3 180.1,177.0 180.2,177.7 180.4,179.0 180.5,179.9 180.7,180.8 180.9,181.9 181.0,183.0 181.2,184.1 181.3,184.7 181.5,185.8 181.6,187.0 181.8,188.0 181.9,188.9 182.0,190.1 182.2,190.7 182.3,192.0 182.4,192.8 182.6,194.2 182.7,195.1 182.9,196.2 183.0,196.9 183.1,197.7 183.3,199.3 183.4,199.9 183.5,200.8 184.2,201.2 185.3,201.3 186.4,201.6 187.5,201.6 188.5,201.2 189.6,201.3 190.6,200.7 191.6,200.8 192.6,200.6 193.7,200.5 194.7,200.4 195.7,200.6 196.7,200.5 197.8,199.9 198.8,199.8 199.6,200.7 200.3,201.3 201.0,202.2 201.7,202.9 202.4,203.8 203.1,204.2 203.9,204.3 205.0,204.4" fill="none" stroke="#f0f" stroke-width="3.0" stroke-linejoin="round" stroke-linecap="round"/>
<path d="M130.3,169.6h0M133.6,168.2h0M136.9,168.4h0M139.3,166.5h0M142.2,167.1h0M145.4,166.1h0M147.2,163.0h0M148.7,165.8h0M150.3,168.2h0M152.0,170.8h0M153.3,172.7h0M155.5,175.0h0M157.8,175.6h0M160.5,174.0h0M161.6,171.8h0M163.6,169.5h0M164.2,172.9h0M165.5,173.9h0M167.2,177.6h0M168.2,180.9h0M169.4,182.3h0M170.9,186.0h0M173.1,186.1h0M176.3,184.8h0M177.8,182.8h0M178.0,179.4h0M179.0,177.5h0M179.2,173.4h0M180.2,177.1h0M180.2,179.1h0M180.9,181.5h0M181.0,184.4h0M181.9,188.2h0M182.2,190.0h0M182.4,193.9h0M182.9,196.7h0M183.7,199.2h0M185.7,200.8h0M188.8,200.7h0M191.7,200.6h0M194.3,200.9h0M198.0,199.5h0M200.5,201.3h0M202.8,203.0h0M204.9,204.0h0" stroke="#f0f" stroke-width="2.8" stroke-linecap="round"/>
<polyline points="207.2,205.1 208.0,205.7 209.0,206.0 210.0,206.5 211.0,206.8 212.0,206.1 213.0,206.3 214.0,206.8 215.0,206.9 216.0,206.0 217.0,206.5 218.0,206.5 219.0,206.7 220.0,206.4 221.0,206.0 222.0,206.2 223.0,206.5 224.0,206.5 225.0,206.1 226.0,206.4 227.0,206.4 228.0,206.4 229.0,205.9 230.0,206.2 231.0,206.1 232.0,206.3 233.0,206.1 234.0,205.9 235.0,206.4 236.0,206.0 237.0,206.5 238.0,206.0 239.0,206.2 240.0,206.4 241.0,205.8 242.0,206.4 243.0,205.7 244.0,206.5 245.0,205.7 246.0,206.3 247.0,206.0 248.0,205.8 249.0,206.0 250.0,206.1 251.0,206.0 252.0,205.7 253.0,206.0 254.0,205.8 255.0,206.3 255.8,205.2 256.7,204.5 257.5,203.7 258.4,203.6 259.2,202.6 259.9,203.5 260.6,204.5 261.3,205.0 262.1,206.1 263.0,205.7 264.0,205.5 265.0,205.4 266.0,205.7 267.0,206.0 268.0,205.4 269.0,205.5 270.0,205.7 271.0,205.2 272.0,205.1 273.0,205.4 274.0,205.2 275.0,205.6 276.0,205.6 277.0,204.9 278.0,205.2 279.0,205.0 280.0,204.6 281.0,204.9 282.0,205.3 283.0,204.7 284.0,204.9 285.0,204.9 286.0,204.3 287.0,205.0 288.0,204.2 289.0,204.4 290.0,204.7 291.0,204.0 292.0,204.3 293.0,204.0 294.0,204.3 295.0,203.8 296.0,203.9 297.0,203.9 298.0,203.7 299.0,203.7 300.0,203.6 301.0,203.4 302.0,202.5 302.8,202.4 303.6,201.2 304.2,200.2 304.8,200.3 305.2,201.8 305.6,202.1 306.0,203.7 306.6,204.0 307.1,205.6 307.7,206.0 308.4,206.3 309.3,206.0 310.1,204.7 310.9,204.1 311.5,203.8 311.9,202.8 312.4,202.0 312.8,200.7 313.3,200.0 313.8,198.7 314.3,197.9 314.8,197.1 315.1,198.1 315.2,198.8 315.4,199.8 315.5,201.1 315.7,201.6 315.9,203.3 316.0,204.0 316.2,204.8 316.4,205.7 316.6,207.0 316.8,208.0 317.0,209.2 317.3,209.7 318.2,209.9 319.3,210.4 320.3,209.8 321.4,210.4 322.4,210.4 323.4,210.4 324.5,210.4 325.5,209.6 326.5,209.8 327.5,209.3 328.5,208.6 329.4,208.8 330.1,207.6 330.7,206.8" fill="none" stroke="#f0f" stroke-width="3.0" stroke-linejoin="round" stroke-linecap="round"/>
<path d="M207.3,204.4h0M210.3,206.0h0M212.8,206.6h0M215.8,205.9h0M219.2,206.0h0M222.1,205.5h0M225.0,206.3h0M228.1,205.6h0M230.8,206.9h0M233.9,205.8h0M236.9,206.8h0M240.2,206.7h0M242.9,205.9h0M246.0,205.7h0M249.4,206.8h0M252.2,206.6h0M254.9,206.9h0M257.3,204.1h0M260.1,204.3h0M262.3,206.8h0M264.8,205.9h0M268.0,205.0h0M270.9,205.8h0M274.3,205.9h0M277.1,204.3h0M279.7,204.7h0M282.8,204.4h0M285.7,203.7h0M289.2,203.9h0M292.3,204.0h0M295.3,203.5h0M297.8,203.5h0M300.6,203.3h0M303.5,200.3h0M305.5,201.6h0M306.2,204.8h0M308.2,205.9h0M310.6,203.3h0M312.5,202.1h0M313.8,198.3h0M314.9,198.9h0M315.4,202.0h0M316.3,203.3h0M316.9,206.1h0M317.5,210.3h0M320.5,209.9h0M323.7,209.8h0M326.5,209.4h0M329.4,208.3h0" stroke="#f0f" stroke-width="2.8" stroke-linecap="round"/>
<circle cx="129.5" cy="33" r="1.3" fill="#000"/>
<circle cx="129.5" cy="41.1" r="1.3" fill="#000"/>
<circle cx="129.5" cy="44.8" r="1.3" fill="#000"/>
<circle cx="129.5" cy="81.8" r="1.3" fill="#000"/>
<circle cx="129.5" cy="56.2" r="1.3" fill="#f00"/>
<circle cx="129.5" cy="63.1" r="1.3" fill="#f00"/>
<circle cx="129.5" cy="66.3" r="1.3" fill="#f00"/>
<circle cx="206.3" cy="128.9" r="1.25" fill="#000"/>
<circle cx="206.3" cy="138.1" r="1.25" fill="#000"/>
<circle cx="206.3" cy="161.4" r="1.25" fill="#000"/>
<circle cx="206.3" cy="176.2" r="1.25" fill="#000"/>
<circle cx="206.3" cy="184" r="1.25" fill="#000"/>
<circle cx="206.3" cy="145.8" r="1.25" fill="#f00"/>
<circle cx="206.3" cy="150.5" r="1.25" fill="#f00"/>
<circle cx="206.3" cy="155.7" r="1.25" fill="#f00"/>
<circle cx="206.3" cy="168" r="1.25" fill="#f00"/>
<circle cx="206.3" cy="181" r="1.25" fill="#f00"/>
<circle cx="206.3" cy="186.9" r="1.25" fill="#f00"/>
<circle cx="206.3" cy="159" r="1.25" fill="#00f"/>
<circle cx="206.3" cy="173" r="1.25" fill="#00f"/>
<circle cx="206.3" cy="177" r="1.25" fill="#00f"/>
<circle cx="206.3" cy="189" r="1.25" fill="#00f"/>
<circle cx="206.5" cy="164.7" r="1.3" fill="#f0f"/>
<circle cx="206.5" cy="171.3" r="1.3" fill="#f0f"/>
<circle cx="206.5" cy="180" r="1.3" fill="#f0f"/>
<circle cx="206.5" cy="191" r="1.3" fill="#f0f"/>
<circle cx="206.5" cy="194" r="1.3" fill="#f0f"/>
<text transform="translate(95.6,79) rotate(-90)" font-family="Liberation Sans, sans-serif" font-size="10" fill="#111">Ni 2s</text>
<text transform="translate(108.2,81) rotate(-90)" font-family="Liberation Sans, sans-serif" font-size="10" fill="#111">O KLL</text>
<text transform="translate(126.5,66.6) rotate(-90)" font-family="Liberation Sans, sans-serif" font-size="10" fill="#111">Ni2p1</text>
<text transform="translate(142.3,37.2) rotate(-90)" font-family="Liberation Sans, sans-serif" font-size="10" fill="#111">Ni2p3</text>
<text transform="translate(154.8,130.6) rotate(-90)" font-family="Liberation Sans, sans-serif" font-size="10.5" fill="#111">Ni LMM</text>
<text transform="translate(169.6,135) rotate(-90)" font-family="Liberation Sans, sans-serif" font-size="10" fill="#111">Ni LMM</text>
<text transform="translate(184.4,145.7) rotate(-90)" font-family="Liberation Sans, sans-serif" font-size="10" fill="#111">Ni LMM</text>
<text transform="translate(211.1,124.5) rotate(-90)" font-family="Liberation Sans, sans-serif" font-size="10" fill="#111">O 1s</text>
<text transform="translate(262.9,191.7) rotate(-90)" font-family="Liberation Sans, sans-serif" font-size="10" fill="#111">C1s</text>
<text transform="translate(309,194) rotate(-90)" font-family="Liberation Sans, sans-serif" font-size="10" fill="#111">Ni3s</text>
<text transform="translate(320.6,186.5) rotate(-90)" font-family="Liberation Sans, sans-serif" font-size="10" fill="#111">Ni3p</text>
<rect x="249.3" y="16.2" width="57.4" height="53.4" fill="#fff" stroke="#888" stroke-width="0.9"/>
<line x1="255.4" y1="25.7" x2="278.5" y2="25.7" stroke="#000" stroke-width="0.6" opacity="0.8"/>
<circle cx="266.8" cy="25.7" r="1.5" fill="#000"/>
<text x="281.5" y="29.2" font-family="Liberation Sans, sans-serif" font-size="9.8" font-weight="bold" fill="#111" stroke="#111" stroke-width="0.25">700</text>
<line x1="255.4" y1="38.4" x2="278.5" y2="38.4" stroke="#f00" stroke-width="0.6" opacity="0.8"/>
<circle cx="266.8" cy="38.4" r="1.5" fill="#f00"/>
<text x="281.5" y="41.9" font-family="Liberation Sans, sans-serif" font-size="9.8" font-weight="bold" fill="#111" stroke="#111" stroke-width="0.25">900</text>
<line x1="255.4" y1="51.099999999999994" x2="278.5" y2="51.099999999999994" stroke="#00f" stroke-width="0.6" opacity="0.8"/>
<path d="M264.9,52.39999999999999 L268.7,52.39999999999999 L266.8,49.3Z" fill="#00f"/>
<text x="281.5" y="54.599999999999994" font-family="Liberation Sans, sans-serif" font-size="9.8" font-weight="bold" fill="#111" stroke="#111" stroke-width="0.25">1100</text>
<line x1="255.4" y1="63.8" x2="278.5" y2="63.8" stroke="#f0f" stroke-width="0.6" opacity="0.8"/>
<path d="M264.9,62.5 L268.7,62.5 L266.8,65.6Z" fill="#f0f"/>
<text x="281.5" y="67.3" font-family="Liberation Sans, sans-serif" font-size="9.8" font-weight="bold" fill="#111" stroke="#111" stroke-width="0.25">1300</text>
<rect x="13.3" y="266.7" width="164.9" height="115.1" fill="none" stroke="#777" stroke-width="1.1"/>
<line x1="13.3" y1="381.8" x2="178.2" y2="381.8" stroke="#333" stroke-width="0.9"/>
<line x1="13.3" y1="381.8" x2="13.3" y2="384.0" stroke="#333" stroke-width="0.7"/>
<text x="13.3" y="389.7" font-family="Liberation Sans, sans-serif" font-size="4.9" text-anchor="middle" fill="#333">890</text>
<line x1="31.6" y1="381.8" x2="31.6" y2="384.0" stroke="#333" stroke-width="0.7"/>
<text x="31.6" y="389.7" font-family="Liberation Sans, sans-serif" font-size="4.9" text-anchor="middle" fill="#333">885</text>
<line x1="49.9" y1="381.8" x2="49.9" y2="384.0" stroke="#333" stroke-width="0.7"/>
<text x="49.9" y="389.7" font-family="Liberation Sans, sans-serif" font-size="4.9" text-anchor="middle" fill="#333">880</text>
<line x1="68.3" y1="381.8" x2="68.3" y2="384.0" stroke="#333" stroke-width="0.7"/>
<text x="68.3" y="389.7" font-family="Liberation Sans, sans-serif" font-size="4.9" text-anchor="middle" fill="#333">875</text>
<line x1="86.6" y1="381.8" x2="86.6" y2="384.0" stroke="#333" stroke-width="0.7"/>
<text x="86.6" y="389.7" font-family="Liberation Sans, sans-serif" font-size="4.9" text-anchor="middle" fill="#333">870</text>
<line x1="104.9" y1="381.8" x2="104.9" y2="384.0" stroke="#333" stroke-width="0.7"/>
<text x="104.9" y="389.7" font-family="Liberation Sans, sans-serif" font-size="4.9" text-anchor="middle" fill="#333">865</text>
<line x1="123.2" y1="381.8" x2="123.2" y2="384.0" stroke="#333" stroke-width="0.7"/>
<text x="123.2" y="389.7" font-family="Liberation Sans, sans-serif" font-size="4.9" text-anchor="middle" fill="#333">860</text>
<line x1="141.6" y1="381.8" x2="141.6" y2="384.0" stroke="#333" stroke-width="0.7"/>
<text x="141.6" y="389.7" font-family="Liberation Sans, sans-serif" font-size="4.9" text-anchor="middle" fill="#333">855</text>
<line x1="159.9" y1="381.8" x2="159.9" y2="384.0" stroke="#333" stroke-width="0.7"/>
<text x="159.9" y="389.7" font-family="Liberation Sans, sans-serif" font-size="4.9" text-anchor="middle" fill="#333">850</text>
<line x1="178.2" y1="381.8" x2="178.2" y2="384.0" stroke="#333" stroke-width="0.7"/>
<text x="178.2" y="389.7" font-family="Liberation Sans, sans-serif" font-size="4.9" text-anchor="middle" fill="#333">845</text>
<line x1="22.5" y1="381.8" x2="22.5" y2="383.1" stroke="#333" stroke-width="0.6"/>
<line x1="40.8" y1="381.8" x2="40.8" y2="383.1" stroke="#333" stroke-width="0.6"/>
<line x1="59.1" y1="381.8" x2="59.1" y2="383.1" stroke="#333" stroke-width="0.6"/>
<line x1="77.4" y1="381.8" x2="77.4" y2="383.1" stroke="#333" stroke-width="0.6"/>
<line x1="95.7" y1="381.8" x2="95.7" y2="383.1" stroke="#333" stroke-width="0.6"/>
<line x1="114.1" y1="381.8" x2="114.1" y2="383.1" stroke="#333" stroke-width="0.6"/>
<line x1="132.4" y1="381.8" x2="132.4" y2="383.1" stroke="#333" stroke-width="0.6"/>
<line x1="150.7" y1="381.8" x2="150.7" y2="383.1" stroke="#333" stroke-width="0.6"/>
<line x1="169.0" y1="381.8" x2="169.0" y2="383.1" stroke="#333" stroke-width="0.6"/>
<text x="90.3" y="399.3" font-family="Liberation Sans, sans-serif" font-size="6.15" font-weight="bold" text-anchor="middle" fill="#111" stroke="#111" stroke-width="0.18">Binding energy(ev)</text>
<text transform="translate(7.6,328.5) rotate(-90)" font-family="Liberation Sans, sans-serif" font-size="6.4" font-weight="bold" text-anchor="middle" fill="#111" stroke="#111" stroke-width="0.18">Intensity(a.u)</text>
<text x="20.2" y="275.9" font-family="Liberation Sans, sans-serif" font-size="5.8" fill="#111">Ni 2p</text>
<text x="93" y="276.3" font-family="Liberation Sans, sans-serif" font-size="4.6" font-weight="bold" fill="#111">(1)</text>
<rect x="19.8" y="280.6" width="35.0" height="36.5" fill="#fff" stroke="#aaa" stroke-width="0.6"/>
<line x1="20.400000000000002" y1="284.7" x2="31.8" y2="284.7" stroke="#111" stroke-width="1.6"/>
<text x="32.8" y="286.5" font-family="Liberation Sans, sans-serif" font-size="4.85" fill="#111">Raw data</text>
<line x1="20.400000000000002" y1="290.7" x2="31.8" y2="290.7" stroke="#d820d8" stroke-width="1.6"/>
<text x="32.8" y="292.5" font-family="Liberation Sans, sans-serif" font-size="4.85" fill="#111">Fit peak 1</text>
<line x1="20.400000000000002" y1="296.7" x2="31.8" y2="296.7" stroke="#28e0e0" stroke-width="1.6"/>
<text x="32.8" y="298.5" font-family="Liberation Sans, sans-serif" font-size="4.85" fill="#111">Fit peak 2</text>
<line x1="20.400000000000002" y1="302.7" x2="31.8" y2="302.7" stroke="#1c24c8" stroke-width="1.6"/>
<text x="32.8" y="304.5" font-family="Liberation Sans, sans-serif" font-size="4.85" fill="#111">Fit peak 3</text>
<line x1="20.400000000000002" y1="308.7" x2="31.8" y2="308.7" stroke="#1a8a8a" stroke-width="1.6"/>
<text x="32.8" y="310.5" font-family="Liberation Sans, sans-serif" font-size="4.85" fill="#111">Fit peak 4</text>
<line x1="20.400000000000002" y1="314.7" x2="31.8" y2="314.7" stroke="#e01c1c" stroke-width="1.6"/>
<text x="32.8" y="316.5" font-family="Liberation Sans, sans-serif" font-size="4.85" fill="#111">Fit peak 5</text>
<polyline points="13.7,381.1 14.1,381.4 15.0,380.5 15.8,379.3 16.6,379.9 17.4,380.1 18.3,380.2 19.1,379.2 19.9,379.4 20.8,379.8 21.6,378.6 22.4,381.2 23.2,380.7 24.0,381.5 24.8,379.5 25.6,381.2 26.4,380.6 27.2,380.1 28.0,380.9 28.8,380.6 29.6,379.6 30.2,378.8 30.8,379.3 31.3,377.9 31.8,377.0 32.4,376.5 32.9,375.7 33.4,375.4 33.9,375.7 34.5,374.6 35.0,374.3 35.4,374.4 35.9,374.0 36.3,373.5 36.7,372.3 37.2,371.6 37.6,371.8 38.0,371.1 38.5,370.2 38.9,369.3 39.3,369.0 39.8,368.2 40.2,367.9 40.6,367.6 41.0,366.2 41.4,365.3 41.8,365.3 42.2,364.0 42.6,363.4 43.0,362.9 43.4,362.8 43.8,361.4 44.2,360.7 44.6,360.2 45.0,359.1 45.5,358.6 46.0,358.1 46.5,356.9 47.0,356.6 47.5,355.3 48.1,354.5 48.8,354.2 49.6,353.3 50.4,353.2 51.2,351.4 52.0,351.9 52.8,351.9 53.6,351.8 54.4,351.7 55.2,352.4 55.9,352.9 56.6,353.0 57.2,353.5 57.8,354.3 58.5,354.8 59.1,355.1 59.7,355.4 60.3,356.2 60.9,356.8 61.6,357.7 62.2,358.3 62.8,358.4 63.4,358.7 64.1,359.1 64.7,360.0 65.3,360.0 65.8,359.1 66.4,358.9 66.9,358.7 67.5,357.5 68.1,357.5 68.6,356.4 69.2,356.0 69.7,355.6 70.1,354.3 70.5,353.7 70.8,353.6 71.1,351.9 71.4,351.3 71.7,350.7 72.0,350.2 72.3,349.4 72.6,348.9 72.9,347.9 73.2,346.4 73.5,345.7 73.9,344.9 74.3,344.6 74.8,343.6 75.4,343.4 75.9,342.9 76.5,341.8 77.0,342.2 77.5,342.0 78.1,343.2 78.6,343.3 79.2,344.2 79.7,344.7 80.2,345.1 80.6,346.4 81.0,346.3 81.4,347.2 81.8,348.0 82.2,349.3 82.6,349.7 82.8,349.9 83.0,351.0 83.2,352.1 83.3,353.1 83.5,353.2 83.6,354.7 83.8,355.1 83.9,356.0 84.0,356.7 84.2,357.5 84.3,358.9 84.5,359.6 84.6,360.4 84.8,361.0 84.9,361.8 85.0,362.0 85.2,362.7 85.3,364.3 85.4,365.0 85.5,365.7 85.6,366.2 85.7,367.0 85.8,368.4 85.9,368.8 86.0,369.1 86.1,370.2 86.2,371.0 86.3,371.6 86.4,373.3 86.5,374.0 86.7,374.7 86.8,374.7 86.9,375.9 87.0,376.4 87.1,377.8 87.2,379.4 87.3,378.6 87.6,378.3 88.3,381.1 89.1,379.4 89.9,379.2 90.4,377.9 90.9,378.9 91.3,378.2 91.8,377.6 92.2,376.7 92.6,376.4 93.1,375.5 93.5,374.9 93.9,374.3 94.4,372.7 94.9,372.8 95.5,371.7 96.1,371.3 96.7,370.7 97.3,370.8 98.0,369.4 98.6,369.2 99.2,368.4 99.8,368.7 100.4,367.6 101.1,367.4 101.8,367.0 102.6,367.0 103.4,366.5 104.2,366.4 104.9,366.4 105.3,365.8 105.7,365.2 106.0,363.9 106.3,363.7 106.6,362.9 107.0,362.0 107.3,361.1 107.6,360.5 107.9,359.3 108.3,358.6 108.6,358.1 108.9,357.1 109.2,356.3 109.6,356.3 109.9,355.6 110.2,354.7 110.5,353.6 110.8,353.3 111.1,352.7 111.3,351.7 111.6,350.6 111.8,350.1 112.1,349.2 112.3,348.3 112.6,347.4 112.8,347.4 113.1,346.4 113.4,345.9 113.6,344.4 113.9,343.7 114.1,343.2 114.4,342.0 114.6,341.5 114.9,340.9 115.1,340.1 115.4,339.8 115.6,338.7 115.8,337.9 116.0,337.1 116.2,336.5 116.4,335.3 116.6,334.1 116.8,334.3 117.0,333.3 117.2,331.8 117.4,331.0 117.6,330.3 117.8,330.0 118.0,328.6 118.2,327.7 118.4,327.4 118.6,326.3 118.9,326.5 119.3,327.1 119.7,327.7 120.1,328.2 120.5,329.1 120.9,329.8 121.3,330.6 121.7,331.4 122.0,332.1 122.2,332.8 122.4,333.3 122.6,334.9 122.8,335.6 123.0,336.1 123.2,336.4 123.4,337.4 123.6,338.9 123.8,339.2 124.1,339.7 124.3,341.1 124.5,342.0 124.7,342.0 124.9,343.2 125.1,344.0 125.3,344.4 125.5,345.4 125.7,346.4 126.1,347.2 126.6,347.8 127.3,348.3 128.0,348.6 128.7,348.7 129.3,348.5 129.8,348.8 130.2,348.1 130.7,347.4 131.1,345.9 131.5,345.9 132.0,344.5 132.4,344.0 132.8,343.1 133.1,343.1 133.3,342.2 133.4,341.4 133.5,340.2 133.6,340.0 133.7,338.5 133.8,338.0 133.9,337.3 134.0,336.1 134.1,335.4 134.3,334.3 134.4,334.2 134.5,332.8 134.6,332.0 134.7,331.3 134.8,330.9 134.9,330.1 135.0,329.2 135.1,328.7 135.3,327.8 135.4,326.5 135.5,326.0 135.6,324.8 135.7,324.1 135.8,323.2 135.9,322.4 136.0,321.8 136.1,321.6 136.2,320.6 136.3,319.2 136.4,318.5 136.5,318.1 136.6,317.2 136.7,315.9 136.8,315.2 136.8,314.8 136.9,314.0 137.0,312.7 137.1,312.6 137.2,311.3 137.3,310.8 137.4,309.9 137.4,308.9 137.5,308.7 137.6,307.4 137.7,306.6 137.8,305.9 137.9,305.4 137.9,304.7 138.0,303.7 138.1,302.7 138.2,302.0 138.3,301.2 138.4,300.7 138.5,299.9 138.7,298.8 139.1,297.5 139.4,297.1 139.8,297.0 140.1,297.4 140.4,298.7 140.7,298.9 141.0,300.2 141.3,300.8 141.6,301.5 141.9,302.5 142.2,303.2 142.5,303.4 142.6,302.8 142.8,301.8 142.9,300.4 143.1,300.0 143.2,299.0 143.4,298.7 143.5,297.4 143.7,296.5 143.8,295.3 144.0,295.0 144.1,294.2 144.2,293.2 144.4,292.2 144.5,291.8 144.6,290.5 144.7,289.8 144.9,289.3 145.0,288.4 145.1,287.7 145.2,287.0 145.3,286.0 145.5,285.0 145.6,284.0 145.7,283.8 145.8,283.5 146.0,282.8 146.1,283.5 146.2,284.3 146.3,285.5 146.4,286.1 146.5,287.2 146.7,287.2 146.8,288.1 146.9,288.9 147.0,289.9 147.1,290.7 147.2,291.5 147.3,292.9 147.4,293.1 147.4,294.1 147.4,295.3 147.5,295.7 147.5,296.5 147.5,297.5 147.6,297.8 147.6,298.3 147.6,300.1 147.7,300.4 147.7,301.3 147.7,301.6 147.8,303.0 147.8,303.5 147.9,304.5 147.9,305.0 147.9,306.4 148.0,306.7 148.0,307.4 148.0,308.8 148.1,308.9 148.1,309.8 148.1,310.8 148.2,312.1 148.2,312.0 148.2,312.9 148.3,314.3 148.3,314.4 148.4,315.5 148.4,316.7 148.4,317.4 148.5,318.3 148.5,318.4 148.5,320.0 148.6,320.3 148.6,321.5 148.6,322.0 148.7,323.2 148.7,323.6 148.7,324.2 148.8,324.9 148.8,326.0 148.9,326.3 148.9,327.3 148.9,328.8 149.0,329.3 149.0,330.4 149.0,330.5 149.1,331.6 149.1,332.4 149.2,332.8 149.2,333.8 149.2,335.2 149.3,335.8 149.3,336.4 149.4,337.3 149.4,338.4 149.4,339.3 149.5,339.7 149.5,340.0 149.6,341.6 149.6,341.7 149.6,342.5 149.7,343.2 149.7,344.4 149.8,345.3 149.8,346.0 149.8,346.8 149.9,347.2 149.9,348.6 150.0,349.2 150.0,349.8 150.0,351.1 150.1,352.0 150.1,352.8 150.2,353.7 150.2,353.6 150.2,354.7 150.3,355.5 150.3,356.2 150.4,357.4 150.4,358.4 150.4,358.4 150.5,359.6 150.5,360.9 150.6,361.6 150.6,362.0 150.6,362.4 150.7,363.6 150.7,364.4 150.8,365.5 150.8,365.7 150.8,366.6 150.9,368.1 150.9,367.9 151.0,369.3 151.0,369.6 151.2,371.1 151.3,371.5 151.5,372.8 151.6,372.9 151.8,374.4 152.0,374.5 152.1,375.1 152.3,376.0 152.4,376.8 152.6,377.9 152.8,378.9 153.0,378.6 153.5,380.0 154.2,379.8 155.1,379.5 155.9,380.8 156.7,378.7 157.5,379.0 158.4,381.3 159.2,381.3 160.0,380.3 160.8,380.2 161.6,380.7 162.4,378.9 163.2,379.9 164.0,381.0 164.8,378.3 165.6,379.9 166.4,380.6 167.2,380.3 168.0,380.5 168.8,378.9 169.6,380.4 170.4,380.3 171.2,378.9 172.1,379.1 172.9,379.0 173.7,380.4 174.5,381.0 175.3,379.5 176.2,380.9 177.0,379.7 177.6,381.2" fill="none" stroke="#000" stroke-width="2.1" stroke-linejoin="round"/>
<polyline points="24.8,379.3 25.3,379.2 25.8,379.2 26.3,379.1 26.8,379.0 27.3,378.9 27.8,378.8 28.3,378.6 28.8,378.5 29.3,378.3 29.8,378.1 30.3,377.9 30.8,377.7 31.3,377.5 31.8,377.2 32.3,376.9 32.8,376.6 33.3,376.2 33.8,375.9 34.3,375.4 34.8,375.0 35.3,374.5 35.8,374.0 36.3,373.5 36.8,372.9 37.3,372.3 37.8,371.6 38.3,370.9 38.8,370.2 39.3,369.5 39.8,368.7 40.3,367.9 40.8,367.1 41.3,366.2 41.8,365.4 42.3,364.5 42.8,363.6 43.3,362.7 43.8,361.9 44.3,361.0 44.8,360.1 45.3,359.3 45.8,358.5 46.3,357.7 46.8,356.9 47.3,356.2 47.8,355.6 48.3,355.0 48.8,354.4 49.3,353.9 49.8,353.5 50.3,353.1 50.8,352.9 51.3,352.7 51.8,352.5 52.3,352.5 52.8,352.5 53.3,352.7 53.8,352.9 54.3,353.1 54.8,353.5 55.3,353.9 55.8,354.4 56.3,355.0 56.8,355.6 57.3,356.2 57.8,356.9 58.3,357.7 58.8,358.5 59.3,359.3 59.8,360.1 60.3,361.0 60.8,361.9 61.3,362.7 61.8,363.6 62.3,364.5 62.8,365.4 63.3,366.2 63.8,367.1 64.3,367.9 64.8,368.7 65.3,369.5 65.8,370.2 66.3,370.9 66.8,371.6 67.3,372.3 67.8,372.9 68.3,373.5 68.8,374.0 69.3,374.5 69.8,375.0 70.3,375.4 70.8,375.9 71.3,376.2 71.8,376.6 72.3,376.9 72.8,377.2 73.3,377.5 73.8,377.7 74.3,377.9 74.8,378.1 75.3,378.3 75.8,378.5 76.3,378.6 76.8,378.8 77.3,378.9 77.8,379.0 78.3,379.1 78.8,379.2 79.3,379.2 79.8,379.3" fill="none" stroke="#d820d8" stroke-width="1.7" stroke-linejoin="round"/>
<polyline points="62.3,379.1 62.8,378.9 63.3,378.7 63.8,378.4 64.3,378.0 64.8,377.5 65.3,376.9 65.8,376.3 66.3,375.5 66.8,374.5 67.3,373.5 67.8,372.2 68.3,370.8 68.8,369.3 69.3,367.6 69.8,365.8 70.3,363.9 70.8,361.8 71.3,359.7 71.8,357.5 72.3,355.3 72.8,353.2 73.3,351.1 73.8,349.1 74.3,347.4 74.8,345.8 75.3,344.5 75.8,343.5 76.3,342.7 76.8,342.4 77.3,342.3 77.8,342.6 78.3,343.3 78.8,344.3 79.3,345.5 79.8,347.0 80.3,348.8 80.8,350.7 81.3,352.7 81.8,354.9 82.3,357.1 82.8,359.2 83.3,361.4 83.8,363.4 84.3,365.4 84.8,367.3 85.3,369.0 85.8,370.5 86.3,372.0 86.8,373.2 87.3,374.3 87.8,375.3 88.3,376.1 88.8,376.8 89.3,377.4 89.8,377.9 90.3,378.3 90.8,378.6 91.3,378.9 91.8,379.1 92.3,379.3" fill="none" stroke="#28e0e0" stroke-width="1.7" stroke-linejoin="round"/>
<polyline points="77.3,378.5 77.8,378.5 78.3,378.4 78.8,378.4 79.3,378.4 79.8,378.3 80.3,378.3 80.8,378.3 81.3,378.2 81.8,378.2 82.3,378.1 82.8,378.1 83.3,378.0 83.8,378.0 84.3,377.9 84.8,377.9 85.3,377.8 85.8,377.7 86.3,377.7 86.8,377.6 87.3,377.5 87.8,377.4 88.3,377.4 88.8,377.3 89.3,377.2 89.8,377.0 90.3,376.9 90.8,376.8 91.3,376.6 91.8,376.5 92.3,376.3 92.8,376.1 93.3,375.9 93.8,375.7 94.3,375.5 94.8,375.2 95.3,374.9 95.8,374.6 96.3,374.3 96.8,374.0 97.3,373.6 97.8,373.2 98.3,372.7 98.8,372.2 99.3,371.7 99.8,371.1 100.3,370.6 100.8,369.9 101.3,369.2 101.8,368.5 102.3,367.7 102.8,366.9 103.3,366.1 103.8,365.2 104.3,364.2 104.8,363.2 105.3,362.2 105.8,361.1 106.3,360.0 106.8,358.8 107.3,357.6 107.8,356.4 108.3,355.1 108.8,353.8 109.3,352.4 109.8,351.1 110.3,349.7 110.8,348.4 111.3,347.0 111.8,345.6 112.3,344.3 112.8,343.0 113.3,341.7 113.8,340.5 114.3,339.3 114.8,338.2 115.3,337.1 115.8,336.2 116.3,335.3 116.8,334.6 117.3,333.9 117.8,333.4 118.3,333.1 118.8,332.9 119.3,332.8 119.8,332.9 120.3,333.1 120.8,333.6 121.3,334.1 121.8,334.9 122.3,335.7 122.8,336.7 123.3,337.8 123.8,339.0 124.3,340.3 124.8,341.6 125.3,343.0 125.8,344.4 126.3,345.9 126.8,347.3 127.3,348.8 127.8,350.3 128.3,351.8 128.8,353.2 129.3,354.6 129.8,356.0 130.3,357.4 130.8,358.7 131.3,360.0 131.8,361.2 132.3,362.4 132.8,363.5 133.3,364.5 133.8,365.6 134.3,366.5 134.8,367.4 135.3,368.3 135.8,369.1 136.3,369.8 136.8,370.5 137.3,371.1 137.8,371.7 138.3,372.3 138.8,372.8 139.3,373.3 139.8,373.7 140.3,374.1 140.8,374.5 141.3,374.8 141.8,375.1 142.3,375.4 142.8,375.7 143.3,375.9 143.8,376.1 144.3,376.3 144.8,376.5 145.3,376.7 145.8,376.8 146.3,377.0 146.8,377.1 147.3,377.2 147.8,377.3 148.3,377.4 148.8,377.5 149.3,377.6 149.8,377.7 150.3,377.8 150.8,377.8 151.3,377.9 151.8,378.0 152.3,378.0 152.8,378.1 153.3,378.1 153.8,378.2 154.3,378.2 154.8,378.3 155.3,378.3 155.8,378.3 156.3,378.4 156.8,378.4 157.3,378.4 157.8,378.5" fill="none" stroke="#1c24c8" stroke-width="1.7" stroke-linejoin="round"/>
<polyline points="128.3,379.3 128.8,379.0 129.3,378.6 129.8,378.1 130.3,377.4 130.8,376.4 131.3,375.2 131.8,373.5 132.3,371.5 132.8,368.9 133.3,365.8 133.8,362.1 134.3,357.8 134.8,353.0 135.3,347.6 135.8,341.9 136.3,335.8 136.8,329.7 137.3,323.8 137.8,318.2 138.3,313.2 138.8,309.0 139.3,305.9 139.8,304.0 140.3,303.3 140.8,304.0 141.3,305.9 141.8,309.0 142.3,313.2 142.8,318.2 143.3,323.8 143.8,329.7 144.3,335.8 144.8,341.9 145.3,347.6 145.8,353.0 146.3,357.8 146.8,362.1 147.3,365.8 147.8,368.9 148.3,371.5 148.8,373.5 149.3,375.2 149.8,376.4 150.3,377.4 150.8,378.1 151.3,378.6 151.8,379.0 152.3,379.3" fill="none" stroke="#1a8a8a" stroke-width="1.7" stroke-linejoin="round"/>
<polyline points="142.3,378.7 142.8,377.4 143.3,374.8 143.8,370.5 144.3,363.7 144.8,354.3 145.3,342.9 145.8,330.6 146.3,319.8 146.8,312.7 147.3,310.9 147.8,315.0 148.3,323.8 148.8,335.5 149.3,347.6 149.8,358.4 150.3,366.7 150.8,372.5 151.3,376.0 151.8,378.0 152.3,379.0" fill="none" stroke="#e01c1c" stroke-width="1.9" stroke-linejoin="round"/>
<line x1="13.3" y1="379.8" x2="178.2" y2="379.8" stroke="#d82020" stroke-width="1.7"/>
<text x="40.2" y="348.9" font-family="Liberation Sans, sans-serif" font-size="5.9" fill="#1a1a1a" stroke="#1a1a1a" stroke-width="0.12">Satellite 1</text>
<text x="74.3" y="339.7" font-family="Liberation Sans, sans-serif" font-size="5.9" fill="#1a1a1a" stroke="#1a1a1a" stroke-width="0.12">2p<tspan font-size="3.4" dy="1.3">1/2</tspan></text>
<text x="92.1" y="350" font-family="Liberation Sans, sans-serif" font-size="5.9" fill="#1a1a1a" stroke="#1a1a1a" stroke-width="0.12">Ni<tspan font-size="3.4" dy="-2.4">2+</tspan></text>
<text x="97.8" y="322.4" font-family="Liberation Sans, sans-serif" font-size="5.9" fill="#1a1a1a" stroke="#1a1a1a" stroke-width="0.12">Satellite 2</text>
<text x="142.4" y="280.9" font-family="Liberation Sans, sans-serif" font-size="5.9" fill="#1a1a1a" stroke="#1a1a1a" stroke-width="0.12">2p<tspan font-size="3.4" dy="1.3">3/2</tspan></text>
<text x="125" y="296.2" font-family="Liberation Sans, sans-serif" font-size="5.9" fill="#1a1a1a" stroke="#1a1a1a" stroke-width="0.12">Ni<tspan font-size="3.4" dy="-2.4">3+</tspan></text>
<text x="156.4" y="315" font-family="Liberation Sans, sans-serif" font-size="5.9" fill="#1a1a1a" stroke="#1a1a1a" stroke-width="0.12">Ni<tspan font-size="3.4" dy="-2.4">2+</tspan></text>
<line x1="84.6" y1="350" x2="92" y2="348" stroke="#1a2ad0" stroke-width="0.7"/>
<path d="M92,348 L90.3,349.4 L89.8,347.6Z" fill="#1a2ad0"/>
<line x1="136.1" y1="304.5" x2="130.9" y2="299.3" stroke="#1a2ad0" stroke-width="0.7"/>
<path d="M130.9,299.3 L133.0,300.0 L131.6,301.4Z" fill="#1a2ad0"/>
<line x1="147.6" y1="314.9" x2="154.9" y2="312.8" stroke="#1a2ad0" stroke-width="0.7"/>
<path d="M154.9,312.8 L153.3,314.3 L152.7,312.4Z" fill="#1a2ad0"/>
<rect x="202.4" y="267.1" width="164.9" height="115.1" fill="none" stroke="#777" stroke-width="1.1"/>
<line x1="202.4" y1="382.2" x2="367.3" y2="382.2" stroke="#333" stroke-width="0.9"/>
<line x1="202.4" y1="382.2" x2="202.4" y2="384.4" stroke="#333" stroke-width="0.7"/>
<text x="202.4" y="390.1" font-family="Liberation Sans, sans-serif" font-size="4.9" text-anchor="middle" fill="#333">890</text>
<line x1="220.7" y1="382.2" x2="220.7" y2="384.4" stroke="#333" stroke-width="0.7"/>
<text x="220.7" y="390.1" font-family="Liberation Sans, sans-serif" font-size="4.9" text-anchor="middle" fill="#333">885</text>
<line x1="239.0" y1="382.2" x2="239.0" y2="384.4" stroke="#333" stroke-width="0.7"/>
<text x="239.0" y="390.1" font-family="Liberation Sans, sans-serif" font-size="4.9" text-anchor="middle" fill="#333">880</text>
<line x1="257.4" y1="382.2" x2="257.4" y2="384.4" stroke="#333" stroke-width="0.7"/>
<text x="257.4" y="390.1" font-family="Liberation Sans, sans-serif" font-size="4.9" text-anchor="middle" fill="#333">875</text>
<line x1="275.7" y1="382.2" x2="275.7" y2="384.4" stroke="#333" stroke-width="0.7"/>
<text x="275.7" y="390.1" font-family="Liberation Sans, sans-serif" font-size="4.9" text-anchor="middle" fill="#333">870</text>
<line x1="294.0" y1="382.2" x2="294.0" y2="384.4" stroke="#333" stroke-width="0.7"/>
<text x="294.0" y="390.1" font-family="Liberation Sans, sans-serif" font-size="4.9" text-anchor="middle" fill="#333">865</text>
<line x1="312.3" y1="382.2" x2="312.3" y2="384.4" stroke="#333" stroke-width="0.7"/>
<text x="312.3" y="390.1" font-family="Liberation Sans, sans-serif" font-size="4.9" text-anchor="middle" fill="#333">860</text>
<line x1="330.7" y1="382.2" x2="330.7" y2="384.4" stroke="#333" stroke-width="0.7"/>
<text x="330.7" y="390.1" font-family="Liberation Sans, sans-serif" font-size="4.9" text-anchor="middle" fill="#333">855</text>
<line x1="349.0" y1="382.2" x2="349.0" y2="384.4" stroke="#333" stroke-width="0.7"/>
<text x="349.0" y="390.1" font-family="Liberation Sans, sans-serif" font-size="4.9" text-anchor="middle" fill="#333">850</text>
<line x1="367.3" y1="382.2" x2="367.3" y2="384.4" stroke="#333" stroke-width="0.7"/>
<text x="367.3" y="390.1" font-family="Liberation Sans, sans-serif" font-size="4.9" text-anchor="middle" fill="#333">845</text>
<line x1="211.6" y1="382.2" x2="211.6" y2="383.5" stroke="#333" stroke-width="0.6"/>
<line x1="229.9" y1="382.2" x2="229.9" y2="383.5" stroke="#333" stroke-width="0.6"/>
<line x1="248.2" y1="382.2" x2="248.2" y2="383.5" stroke="#333" stroke-width="0.6"/>
<line x1="266.5" y1="382.2" x2="266.5" y2="383.5" stroke="#333" stroke-width="0.6"/>
<line x1="284.9" y1="382.2" x2="284.9" y2="383.5" stroke="#333" stroke-width="0.6"/>
<line x1="303.2" y1="382.2" x2="303.2" y2="383.5" stroke="#333" stroke-width="0.6"/>
<line x1="321.5" y1="382.2" x2="321.5" y2="383.5" stroke="#333" stroke-width="0.6"/>
<line x1="339.8" y1="382.2" x2="339.8" y2="383.5" stroke="#333" stroke-width="0.6"/>
<line x1="358.1" y1="382.2" x2="358.1" y2="383.5" stroke="#333" stroke-width="0.6"/>
<text x="281.6" y="399.2" font-family="Liberation Sans, sans-serif" font-size="6.15" font-weight="bold" text-anchor="middle" fill="#111" stroke="#111" stroke-width="0.18">Binding energy(ev)</text>
<text transform="translate(197.4,330.4) rotate(-90)" font-family="Liberation Sans, sans-serif" font-size="6.5" font-weight="bold" text-anchor="middle" fill="#111" stroke="#111" stroke-width="0.18">Intensity(a.u)</text>
<text x="205.8" y="273.5" font-family="Liberation Sans, sans-serif" font-size="5.8" fill="#111">Ni 2p</text>
<text x="268.7" y="276.1" font-family="Liberation Sans, sans-serif" font-size="4.6" font-weight="bold" fill="#111">(2)</text>
<rect x="204.6" y="280.2" width="35.2" height="36.4" fill="#fff" stroke="#aaa" stroke-width="0.6"/>
<line x1="205.2" y1="284.3" x2="216.6" y2="284.3" stroke="#111" stroke-width="1.6"/>
<text x="217.6" y="286.1" font-family="Liberation Sans, sans-serif" font-size="4.85" fill="#111">Raw data</text>
<line x1="205.2" y1="290.3" x2="216.6" y2="290.3" stroke="#d820d8" stroke-width="1.6"/>
<text x="217.6" y="292.1" font-family="Liberation Sans, sans-serif" font-size="4.85" fill="#111">Fit peak 1</text>
<line x1="205.2" y1="296.3" x2="216.6" y2="296.3" stroke="#28e0e0" stroke-width="1.6"/>
<text x="217.6" y="298.1" font-family="Liberation Sans, sans-serif" font-size="4.85" fill="#111">Fit peak 2</text>
<line x1="205.2" y1="302.3" x2="216.6" y2="302.3" stroke="#1c24c8" stroke-width="1.6"/>
<text x="217.6" y="304.1" font-family="Liberation Sans, sans-serif" font-size="4.85" fill="#111">Fit peak 3</text>
<line x1="205.2" y1="308.3" x2="216.6" y2="308.3" stroke="#1a8a8a" stroke-width="1.6"/>
<text x="217.6" y="310.1" font-family="Liberation Sans, sans-serif" font-size="4.85" fill="#111">Fit peak 4</text>
<line x1="205.2" y1="314.3" x2="216.6" y2="314.3" stroke="#e01c1c" stroke-width="1.6"/>
<text x="217.6" y="316.1" font-family="Liberation Sans, sans-serif" font-size="4.85" fill="#111">Fit peak 5</text>
<polyline points="202.8,379.7 203.2,381.2 204.0,379.8 204.9,379.6 205.7,378.4 206.5,378.8 207.3,379.9 208.1,380.3 209.0,381.1 209.8,379.9 210.6,379.7 211.4,380.4 212.2,379.7 213.0,379.4 213.8,381.0 214.7,380.0 215.5,381.4 216.3,380.0 217.1,380.1 217.8,380.0 218.4,377.1 218.9,376.5 219.5,376.2 220.1,375.7 220.7,374.8 221.3,374.7 221.8,373.8 222.4,373.4 223.0,373.6 223.4,372.5 223.9,371.7 224.3,371.5 224.7,370.6 225.2,370.5 225.6,369.5 226.0,368.9 226.5,368.6 226.9,368.2 227.3,366.6 227.8,366.6 228.2,365.8 228.6,365.0 229.0,364.2 229.4,363.1 229.8,362.7 230.2,362.1 230.6,361.2 231.0,361.1 231.4,359.7 231.8,359.5 232.2,358.7 232.6,358.0 233.0,357.0 233.4,356.3 233.9,355.9 234.3,354.5 234.7,354.0 235.1,353.1 235.6,353.0 236.1,352.3 236.7,352.1 237.5,351.4 238.2,350.4 238.9,350.2 239.6,349.4 240.4,349.9 241.2,349.8 242.0,349.7 242.8,350.6 243.6,350.0 244.2,350.5 244.8,351.4 245.3,352.5 245.9,352.2 246.4,353.0 246.9,354.1 247.5,354.2 248.0,355.4 248.5,355.2 249.0,356.1 249.5,356.8 250.0,358.0 250.6,357.9 251.1,359.2 251.6,360.1 252.1,360.8 252.6,360.9 253.0,359.9 253.5,359.6 253.9,358.6 254.4,357.8 254.8,357.2 255.2,357.0 255.7,356.2 256.1,355.0 256.6,354.5 257.0,353.6 257.4,353.7 257.8,352.8 258.2,351.8 258.6,351.6 259.0,350.9 259.4,349.4 259.8,348.7 260.2,347.9 260.6,347.6 261.0,346.9 261.4,346.1 261.8,345.6 262.3,344.7 262.9,343.9 263.5,343.6 264.0,343.2 264.6,341.7 265.2,341.8 265.8,341.7 266.4,342.9 267.1,343.1 267.7,344.1 268.1,344.6 268.4,345.6 268.6,346.0 268.9,346.8 269.1,348.0 269.3,348.6 269.6,348.9 269.8,349.5 270.1,351.1 270.3,351.0 270.6,352.6 270.8,353.4 271.0,353.9 271.2,355.0 271.4,355.5 271.6,356.4 271.8,357.0 271.9,357.4 272.1,358.1 272.3,359.5 272.5,360.0 272.7,360.5 272.9,361.7 273.1,362.2 273.2,362.9 273.4,364.4 273.5,364.9 273.7,365.8 273.8,366.7 274.0,367.1 274.1,367.9 274.3,368.7 274.4,369.4 274.6,370.6 274.7,371.5 274.9,371.7 275.0,372.9 275.2,373.2 275.3,373.8 275.5,375.2 275.6,376.1 275.8,376.5 275.9,377.9 276.1,378.0 276.2,380.1 276.6,380.2 277.3,379.2 278.1,379.7 278.8,379.1 279.3,378.9 279.7,379.0 280.0,377.5 280.3,377.2 280.7,375.7 281.0,375.0 281.3,374.2 281.7,374.0 282.0,373.2 282.3,372.2 282.6,371.8 283.0,370.5 283.3,369.8 283.6,370.0 284.0,369.2 284.3,367.7 284.7,367.6 285.3,367.0 286.1,366.7 286.9,366.8 287.7,366.4 288.5,366.5 289.2,365.8 289.7,365.4 290.1,363.9 290.5,363.9 291.0,362.7 291.4,362.6 291.8,361.8 292.3,361.2 292.7,360.3 293.1,359.3 293.6,358.7 294.0,358.3 294.4,356.8 294.7,356.6 295.1,355.8 295.5,355.3 295.9,354.1 296.2,353.7 296.6,353.1 297.0,352.0 297.3,351.5 297.7,351.0 298.1,349.7 298.4,349.1 298.8,348.4 299.1,348.0 299.4,346.6 299.7,345.9 300.0,345.2 300.3,344.7 300.6,343.4 300.9,343.5 301.2,342.3 301.5,341.7 301.8,340.6 302.1,339.5 302.4,339.1 302.7,338.5 303.0,337.3 303.3,337.4 303.6,336.2 303.9,335.3 304.1,334.2 304.4,333.6 304.7,333.0 305.0,332.5 305.3,331.3 305.6,330.8 305.8,329.9 306.1,329.4 306.4,328.8 306.7,327.8 307.0,327.3 307.3,326.4 307.5,325.1 307.8,325.0 308.1,324.0 308.5,324.0 308.9,324.4 309.3,324.5 309.8,325.7 310.3,325.7 310.7,326.8 311.1,326.9 311.3,328.5 311.5,328.9 311.7,329.7 311.9,330.6 312.2,331.2 312.4,331.9 312.6,333.1 312.8,333.8 313.0,334.1 313.2,335.1 313.4,336.5 313.6,336.7 313.8,337.5 314.1,338.5 314.3,339.1 314.5,340.5 314.7,341.3 314.9,341.2 315.2,342.1 315.6,342.8 315.9,343.8 316.3,344.4 316.7,345.5 317.1,346.5 317.5,346.4 317.9,347.1 318.2,347.9 318.6,348.7 319.0,348.5 319.4,348.3 319.9,347.5 320.3,347.1 320.7,346.6 321.1,345.9 321.6,344.6 321.9,344.1 322.1,342.8 322.2,342.5 322.3,342.0 322.4,341.2 322.5,339.6 322.6,338.9 322.6,338.8 322.7,337.8 322.8,337.1 322.9,335.6 323.0,335.3 323.1,333.9 323.2,333.8 323.3,333.1 323.4,331.8 323.5,330.7 323.6,330.6 323.7,330.1 323.8,328.9 323.8,327.9 323.9,327.0 324.0,326.7 324.1,326.1 324.2,324.7 324.3,323.7 324.4,323.7 324.5,322.3 324.6,321.5 324.7,320.6 324.8,320.2 324.9,319.7 325.0,318.4 325.0,317.9 325.1,316.7 325.2,315.9 325.3,315.5 325.3,314.8 325.4,313.8 325.5,312.9 325.6,312.3 325.6,311.5 325.7,310.8 325.8,309.5 325.9,308.6 326.0,307.4 326.0,307.1 326.1,306.1 326.2,305.0 326.3,305.1 326.3,303.6 326.4,303.5 326.5,301.7 326.6,301.3 326.8,300.9 327.1,300.0 327.4,299.3 327.7,298.5 328.0,298.1 328.4,299.5 328.7,300.1 329.1,300.6 329.4,301.5 329.7,302.5 330.0,302.9 330.2,303.7 330.5,304.0 330.6,303.9 330.8,303.2 330.9,302.0 331.1,301.6 331.2,300.4 331.4,299.9 331.5,298.8 331.6,298.6 331.8,297.8 331.9,296.9 332.1,295.7 332.2,294.9 332.3,294.1 332.4,293.5 332.5,292.1 332.6,291.9 332.7,291.5 332.8,289.8 332.9,289.8 333.0,288.7 333.1,288.3 333.2,287.3 333.4,286.5 333.5,285.7 333.6,284.6 333.7,283.5 333.8,283.4 333.9,282.6 334.0,281.7 334.1,280.4 334.2,279.9 334.3,279.1 334.4,278.2 334.5,278.0 334.6,278.3 334.7,279.6 334.8,280.0 334.9,281.2 335.0,281.9 335.1,282.0 335.2,283.4 335.3,283.8 335.4,284.9 335.5,285.6 335.6,286.6 335.7,287.0 335.8,288.2 335.9,288.7 335.9,289.9 336.0,290.4 336.1,291.3 336.1,292.5 336.1,292.6 336.2,293.1 336.2,294.8 336.3,295.2 336.3,296.1 336.3,297.1 336.4,298.0 336.4,298.3 336.5,299.7 336.5,299.9 336.5,301.0 336.6,301.9 336.6,302.3 336.7,303.1 336.7,303.9 336.7,304.6 336.8,305.5 336.8,306.7 336.9,306.8 336.9,308.5 336.9,309.1 337.0,309.7 337.0,310.5 337.1,311.0 337.1,312.3 337.1,313.2 337.2,313.5 337.2,314.4 337.3,314.9 337.3,315.8 337.3,317.2 337.4,317.7 337.4,318.3 337.5,319.3 337.5,319.7 337.5,320.3 337.6,321.5 337.6,322.5 337.7,322.9 337.7,324.0 337.7,324.6 337.8,325.4 337.8,326.6 337.9,327.1 337.9,328.2 337.9,329.0 338.0,329.5 338.0,329.9 338.1,331.5 338.1,332.1 338.1,332.9 338.2,333.8 338.2,334.4 338.3,335.6 338.3,335.5 338.4,337.3 338.4,337.7 338.4,338.3 338.5,339.6 338.5,340.4 338.6,340.9 338.6,341.1 338.7,342.5 338.7,343.1 338.7,344.1 338.8,345.1 338.8,345.2 338.9,346.7 338.9,347.0 338.9,347.8 339.0,348.3 339.0,349.2 339.1,350.2 339.1,351.2 339.2,352.4 339.2,352.5 339.2,353.4 339.3,354.3 339.3,355.3 339.4,355.9 339.4,357.0 339.5,357.3 339.5,357.9 339.5,359.3 339.6,360.2 339.6,360.4 339.7,361.1 339.7,362.6 339.7,362.8 339.8,364.4 339.8,365.0 339.9,365.3 339.9,366.3 340.0,366.8 340.0,367.6 340.1,368.7 340.3,370.0 340.4,370.9 340.6,371.5 340.7,372.2 340.8,373.0 341.0,373.7 341.1,374.7 341.2,375.3 341.4,376.0 341.5,377.3 341.7,377.6 341.8,378.9 342.0,379.4 342.5,379.4 343.2,379.2 344.0,379.3 344.8,379.3 345.6,380.5 346.4,379.4 347.2,379.8 348.0,379.3 348.8,379.1 349.6,380.6 350.4,380.9 351.2,379.6 352.0,379.4 352.8,379.3 353.6,379.0 354.4,379.7 355.2,378.7 356.0,380.0 356.8,380.6 357.6,379.5 358.4,379.8 359.2,380.4 360.0,380.0 360.8,378.6 361.6,380.5 362.4,378.5 363.2,379.9 364.1,379.9 364.9,381.2 365.7,379.7 366.5,379.8 366.9,380.6" fill="none" stroke="#000" stroke-width="2.1" stroke-linejoin="round"/>
<polyline points="209.9,379.1 210.4,379.0 210.9,379.0 211.4,378.9 211.9,378.9 212.4,378.8 212.9,378.7 213.4,378.6 213.9,378.5 214.4,378.4 214.9,378.3 215.4,378.2 215.9,378.0 216.4,377.9 216.9,377.7 217.4,377.5 217.9,377.2 218.4,377.0 218.9,376.7 219.4,376.4 219.9,376.1 220.4,375.7 220.9,375.3 221.4,374.9 221.9,374.5 222.4,374.0 222.9,373.5 223.4,372.9 223.9,372.3 224.4,371.7 224.9,371.1 225.4,370.4 225.9,369.7 226.4,368.9 226.9,368.1 227.4,367.3 227.9,366.5 228.4,365.6 228.9,364.7 229.4,363.9 229.9,362.9 230.4,362.0 230.9,361.1 231.4,360.2 231.9,359.3 232.4,358.4 232.9,357.5 233.4,356.6 233.9,355.8 234.4,355.0 234.9,354.3 235.4,353.6 235.9,352.9 236.4,352.3 236.9,351.8 237.4,351.3 237.9,350.9 238.4,350.6 238.9,350.4 239.4,350.3 239.9,350.2 240.4,350.2 240.9,350.3 241.4,350.5 241.9,350.8 242.4,351.2 242.9,351.6 243.4,352.1 243.9,352.7 244.4,353.3 244.9,354.0 245.4,354.7 245.9,355.5 246.4,356.3 246.9,357.1 247.4,358.0 247.9,358.9 248.4,359.8 248.9,360.7 249.4,361.7 249.9,362.6 250.4,363.5 250.9,364.4 251.4,365.3 251.9,366.1 252.4,367.0 252.9,367.8 253.4,368.6 253.9,369.4 254.4,370.1 254.9,370.8 255.4,371.5 255.9,372.1 256.4,372.7 256.9,373.3 257.4,373.8 257.9,374.3 258.4,374.8 258.9,375.2 259.4,375.6 259.9,375.9 260.4,376.3 260.9,376.6 261.4,376.9 261.9,377.1 262.4,377.4 262.9,377.6 263.4,377.8 263.9,378.0 264.4,378.1 264.9,378.3 265.4,378.4 265.9,378.5 266.4,378.6 266.9,378.7 267.4,378.8 267.9,378.8 268.4,378.9 268.9,379.0 269.4,379.0 269.9,379.1 270.4,379.1" fill="none" stroke="#d820d8" stroke-width="1.7" stroke-linejoin="round"/>
<polyline points="250.9,379.0 251.4,378.8 251.9,378.5 252.4,378.2 252.9,377.9 253.4,377.4 253.9,376.8 254.4,376.2 254.9,375.4 255.4,374.5 255.9,373.4 256.4,372.2 256.9,370.8 257.4,369.3 257.9,367.6 258.4,365.8 258.9,363.9 259.4,361.8 259.9,359.7 260.4,357.5 260.9,355.3 261.4,353.1 261.9,351.0 262.4,349.0 262.9,347.2 263.4,345.5 263.9,344.1 264.4,343.0 264.9,342.3 265.4,341.8 265.9,341.7 266.4,342.0 266.9,342.5 267.4,343.5 267.9,344.7 268.4,346.2 268.9,347.9 269.4,349.8 269.9,351.8 270.4,354.0 270.9,356.2 271.4,358.4 271.9,360.6 272.4,362.7 272.9,364.7 273.4,366.6 273.9,368.3 274.4,369.9 274.9,371.4 275.4,372.7 275.9,373.9 276.4,374.9 276.9,375.7 277.4,376.5 277.9,377.1 278.4,377.6 278.9,378.0 279.4,378.4 279.9,378.6 280.4,378.9 280.9,379.0" fill="none" stroke="#28e0e0" stroke-width="1.7" stroke-linejoin="round"/>
<polyline points="263.9,378.3 264.4,378.3 264.9,378.2 265.4,378.2 265.9,378.2 266.4,378.1 266.9,378.1 267.4,378.1 267.9,378.0 268.4,378.0 268.9,377.9 269.4,377.9 269.9,377.9 270.4,377.8 270.9,377.8 271.4,377.7 271.9,377.7 272.4,377.6 272.9,377.5 273.4,377.5 273.9,377.4 274.4,377.3 274.9,377.2 275.4,377.2 275.9,377.1 276.4,377.0 276.9,376.9 277.4,376.8 277.9,376.6 278.4,376.5 278.9,376.4 279.4,376.2 279.9,376.0 280.4,375.9 280.9,375.7 281.4,375.4 281.9,375.2 282.4,375.0 282.9,374.7 283.4,374.4 283.9,374.1 284.4,373.7 284.9,373.4 285.4,373.0 285.9,372.5 286.4,372.1 286.9,371.6 287.4,371.0 287.9,370.5 288.4,369.8 288.9,369.2 289.4,368.5 289.9,367.8 290.4,367.0 290.9,366.1 291.4,365.3 291.9,364.4 292.4,363.4 292.9,362.4 293.4,361.3 293.9,360.2 294.4,359.1 294.9,357.9 295.4,356.7 295.9,355.4 296.4,354.1 296.9,352.8 297.4,351.5 297.9,350.1 298.4,348.7 298.9,347.3 299.4,346.0 299.9,344.6 300.4,343.2 300.9,341.8 301.4,340.5 301.9,339.2 302.4,338.0 302.9,336.8 303.4,335.7 303.9,334.7 304.4,333.8 304.9,332.9 305.4,332.2 305.9,331.6 306.4,331.2 306.9,330.8 307.4,330.6 307.9,330.6 308.4,330.7 308.9,331.0 309.4,331.5 309.9,332.1 310.4,332.8 310.9,333.7 311.4,334.7 311.9,335.8 312.4,337.1 312.9,338.3 313.4,339.7 313.9,341.1 314.4,342.6 314.9,344.1 315.4,345.6 315.9,347.1 316.4,348.6 316.9,350.1 317.4,351.6 317.9,353.0 318.4,354.5 318.9,355.8 319.4,357.2 319.9,358.5 320.4,359.8 320.9,361.0 321.4,362.1 321.9,363.2 322.4,364.3 322.9,365.3 323.4,366.2 323.9,367.1 324.4,368.0 324.9,368.8 325.4,369.5 325.9,370.2 326.4,370.8 326.9,371.4 327.4,372.0 327.9,372.5 328.4,373.0 328.9,373.4 329.4,373.8 329.9,374.2 330.4,374.5 330.9,374.8 331.4,375.1 331.9,375.4 332.4,375.6 332.9,375.8 333.4,376.0 333.9,376.2 334.4,376.4 334.9,376.5 335.4,376.7 335.9,376.8 336.4,376.9 336.9,377.0 337.4,377.1 337.9,377.2 338.4,377.3 338.9,377.4 339.4,377.5 339.9,377.5 340.4,377.6 340.9,377.7 341.4,377.7 341.9,377.8 342.4,377.8 342.9,377.9 343.4,377.9 343.9,378.0 344.4,378.0 344.9,378.1 345.4,378.1 345.9,378.1 346.4,378.2 346.9,378.2 347.4,378.2 347.9,378.3 348.4,378.3" fill="none" stroke="#1c24c8" stroke-width="1.7" stroke-linejoin="round"/>
<polyline points="316.4,379.0 316.9,378.7 317.4,378.3 317.9,377.7 318.4,376.9 318.9,375.8 319.4,374.5 319.9,372.7 320.4,370.5 320.9,367.7 321.4,364.5 321.9,360.6 322.4,356.2 322.9,351.2 323.4,345.8 323.9,340.0 324.4,334.0 324.9,328.1 325.4,322.4 325.9,317.1 326.4,312.5 326.9,308.8 327.4,306.1 327.9,304.7 328.4,304.6 328.9,305.8 329.4,308.2 329.9,311.7 330.4,316.1 330.9,321.3 331.4,326.9 331.9,332.9 332.4,338.8 332.9,344.6 333.4,350.2 333.9,355.2 334.4,359.8 334.9,363.7 335.4,367.1 335.9,370.0 336.4,372.3 336.9,374.1 337.4,375.6 337.9,376.7 338.4,377.6 338.9,378.2 339.4,378.6 339.9,378.9" fill="none" stroke="#1a8a8a" stroke-width="1.7" stroke-linejoin="round"/>
<polyline points="330.4,378.8 330.9,377.7 331.4,375.6 331.9,371.7 332.4,365.5 332.9,356.6 333.4,345.0 333.9,332.0 334.4,319.5 334.9,310.0 335.4,305.6 335.9,307.5 336.4,315.2 336.9,326.8 337.4,339.9 337.9,352.2 338.4,362.3 338.9,369.6 339.4,374.3 339.9,377.0 340.4,378.4" fill="none" stroke="#e01c1c" stroke-width="1.9" stroke-linejoin="round"/>
<line x1="202.4" y1="379.6" x2="367.3" y2="379.6" stroke="#d82020" stroke-width="1.7"/>
<text x="225.9" y="346.6" font-family="Liberation Sans, sans-serif" font-size="5.9" fill="#1a1a1a" stroke="#1a1a1a" stroke-width="0.12">Satellite 1</text>
<text x="261" y="339" font-family="Liberation Sans, sans-serif" font-size="5.9" fill="#1a1a1a" stroke="#1a1a1a" stroke-width="0.12">2p<tspan font-size="3.4" dy="1.3">1/2</tspan></text>
<text x="278.7" y="346" font-family="Liberation Sans, sans-serif" font-size="5.9" fill="#1a1a1a" stroke="#1a1a1a" stroke-width="0.12">Ni<tspan font-size="3.4" dy="-2.4">2+</tspan></text>
<text x="291.3" y="319.1" font-family="Liberation Sans, sans-serif" font-size="5.9" fill="#1a1a1a" stroke="#1a1a1a" stroke-width="0.12">Satellite 2</text>
<text x="331.5" y="276.3" font-family="Liberation Sans, sans-serif" font-size="5.9" fill="#1a1a1a" stroke="#1a1a1a" stroke-width="0.12">2p<tspan font-size="3.4" dy="1.3">3/2</tspan></text>
<text x="314.6" y="297.2" font-family="Liberation Sans, sans-serif" font-size="5.9" fill="#1a1a1a" stroke="#1a1a1a" stroke-width="0.12">Ni<tspan font-size="3.4" dy="-2.4">3+</tspan></text>
<text x="347" y="304.5" font-family="Liberation Sans, sans-serif" font-size="5.9" fill="#1a1a1a" stroke="#1a1a1a" stroke-width="0.12">Ni<tspan font-size="3.4" dy="-2.4">2+</tspan></text>
<line x1="268.6" y1="349.7" x2="277.8" y2="346.9" stroke="#1a2ad0" stroke-width="0.7"/>
<path d="M277.8,346.9 L276.2,348.4 L275.6,346.6Z" fill="#1a2ad0"/>
<line x1="325.5" y1="304.5" x2="320.9" y2="298.8" stroke="#1a2ad0" stroke-width="0.7"/>
<path d="M320.9,298.8 L322.9,299.7 L321.4,300.9Z" fill="#1a2ad0"/>
<line x1="337.2" y1="303.8" x2="346" y2="302.4" stroke="#1a2ad0" stroke-width="0.7"/>
<path d="M346,302.4 L344.2,303.7 L343.9,301.8Z" fill="#1a2ad0"/>
<rect x="11.4" y="408.8" width="165.0" height="114.7" fill="none" stroke="#777" stroke-width="1.1"/>
<line x1="11.4" y1="523.5" x2="176.4" y2="523.5" stroke="#333" stroke-width="0.9"/>
<line x1="11.4" y1="523.5" x2="11.4" y2="525.7" stroke="#333" stroke-width="0.7"/>
<text x="11.4" y="531.4" font-family="Liberation Sans, sans-serif" font-size="4.9" text-anchor="middle" fill="#333">890</text>
<line x1="29.7" y1="523.5" x2="29.7" y2="525.7" stroke="#333" stroke-width="0.7"/>
<text x="29.7" y="531.4" font-family="Liberation Sans, sans-serif" font-size="4.9" text-anchor="middle" fill="#333">885</text>
<line x1="48.1" y1="523.5" x2="48.1" y2="525.7" stroke="#333" stroke-width="0.7"/>
<text x="48.1" y="531.4" font-family="Liberation Sans, sans-serif" font-size="4.9" text-anchor="middle" fill="#333">880</text>
<line x1="66.4" y1="523.5" x2="66.4" y2="525.7" stroke="#333" stroke-width="0.7"/>
<text x="66.4" y="531.4" font-family="Liberation Sans, sans-serif" font-size="4.9" text-anchor="middle" fill="#333">875</text>
<line x1="84.7" y1="523.5" x2="84.7" y2="525.7" stroke="#333" stroke-width="0.7"/>
<text x="84.7" y="531.4" font-family="Liberation Sans, sans-serif" font-size="4.9" text-anchor="middle" fill="#333">870</text>
<line x1="103.1" y1="523.5" x2="103.1" y2="525.7" stroke="#333" stroke-width="0.7"/>
<text x="103.1" y="531.4" font-family="Liberation Sans, sans-serif" font-size="4.9" text-anchor="middle" fill="#333">865</text>
<line x1="121.4" y1="523.5" x2="121.4" y2="525.7" stroke="#333" stroke-width="0.7"/>
<text x="121.4" y="531.4" font-family="Liberation Sans, sans-serif" font-size="4.9" text-anchor="middle" fill="#333">860</text>
<line x1="139.7" y1="523.5" x2="139.7" y2="525.7" stroke="#333" stroke-width="0.7"/>
<text x="139.7" y="531.4" font-family="Liberation Sans, sans-serif" font-size="4.9" text-anchor="middle" fill="#333">855</text>
<line x1="158.1" y1="523.5" x2="158.1" y2="525.7" stroke="#333" stroke-width="0.7"/>
<text x="158.1" y="531.4" font-family="Liberation Sans, sans-serif" font-size="4.9" text-anchor="middle" fill="#333">850</text>
<line x1="176.4" y1="523.5" x2="176.4" y2="525.7" stroke="#333" stroke-width="0.7"/>
<text x="176.4" y="531.4" font-family="Liberation Sans, sans-serif" font-size="4.9" text-anchor="middle" fill="#333">845</text>
<line x1="20.6" y1="523.5" x2="20.6" y2="524.8" stroke="#333" stroke-width="0.6"/>
<line x1="38.9" y1="523.5" x2="38.9" y2="524.8" stroke="#333" stroke-width="0.6"/>
<line x1="57.2" y1="523.5" x2="57.2" y2="524.8" stroke="#333" stroke-width="0.6"/>
<line x1="75.6" y1="523.5" x2="75.6" y2="524.8" stroke="#333" stroke-width="0.6"/>
<line x1="93.9" y1="523.5" x2="93.9" y2="524.8" stroke="#333" stroke-width="0.6"/>
<line x1="112.2" y1="523.5" x2="112.2" y2="524.8" stroke="#333" stroke-width="0.6"/>
<line x1="130.6" y1="523.5" x2="130.6" y2="524.8" stroke="#333" stroke-width="0.6"/>
<line x1="148.9" y1="523.5" x2="148.9" y2="524.8" stroke="#333" stroke-width="0.6"/>
<line x1="167.2" y1="523.5" x2="167.2" y2="524.8" stroke="#333" stroke-width="0.6"/>
<text x="93.9" y="541.8" font-family="Liberation Sans, sans-serif" font-size="6.15" font-weight="bold" text-anchor="middle" fill="#111" stroke="#111" stroke-width="0.18">Binding energy(ev)</text>
<text transform="translate(7.9,473.8) rotate(-90)" font-family="Liberation Sans, sans-serif" font-size="6.7" font-weight="bold" text-anchor="middle" fill="#111" stroke="#111" stroke-width="0.18">Intensity(a.u)</text>
<text x="13.9" y="414" font-family="Liberation Sans, sans-serif" font-size="5.8" fill="#111">Ni 2p</text>
<text x="88" y="418" font-family="Liberation Sans, sans-serif" font-size="4.6" font-weight="bold" fill="#111">(3)</text>
<rect x="15.1" y="422.6" width="35.2" height="37.2" fill="#fff" stroke="#aaa" stroke-width="0.6"/>
<line x1="15.7" y1="426.7" x2="27.1" y2="426.7" stroke="#111" stroke-width="1.6"/>
<text x="28.1" y="428.5" font-family="Liberation Sans, sans-serif" font-size="4.85" fill="#111">Raw data</text>
<line x1="15.7" y1="432.7" x2="27.1" y2="432.7" stroke="#d820d8" stroke-width="1.6"/>
<text x="28.1" y="434.5" font-family="Liberation Sans, sans-serif" font-size="4.85" fill="#111">Fit peak 1</text>
<line x1="15.7" y1="438.7" x2="27.1" y2="438.7" stroke="#28e0e0" stroke-width="1.6"/>
<text x="28.1" y="440.5" font-family="Liberation Sans, sans-serif" font-size="4.85" fill="#111">Fit peak 2</text>
<line x1="15.7" y1="444.7" x2="27.1" y2="444.7" stroke="#1c24c8" stroke-width="1.6"/>
<text x="28.1" y="446.5" font-family="Liberation Sans, sans-serif" font-size="4.85" fill="#111">Fit peak 3</text>
<line x1="15.7" y1="450.7" x2="27.1" y2="450.7" stroke="#1a8a8a" stroke-width="1.6"/>
<text x="28.1" y="452.5" font-family="Liberation Sans, sans-serif" font-size="4.85" fill="#111">Fit peak 4</text>
<line x1="15.7" y1="456.7" x2="27.1" y2="456.7" stroke="#e01c1c" stroke-width="1.6"/>
<text x="28.1" y="458.5" font-family="Liberation Sans, sans-serif" font-size="4.85" fill="#111">Fit peak 5</text>
<polyline points="11.8,520.4 12.2,521.4 13.0,522.6 13.9,521.1 14.7,522.2 15.5,523.2 16.3,520.6 17.1,520.3 18.0,521.9 18.8,521.2 19.6,522.5 20.4,521.6 21.2,520.3 22.1,521.8 22.9,521.4 23.7,520.9 24.5,521.4 25.4,522.5 26.2,521.8 26.9,521.8 27.5,522.2 28.1,520.8 28.6,518.8 29.1,518.3 29.6,518.0 30.2,517.8 30.7,517.3 31.2,517.3 31.7,516.2 32.2,515.9 32.7,516.0 33.1,515.4 33.5,514.6 34.0,513.9 34.4,513.2 34.8,512.9 35.3,512.3 35.7,511.7 36.1,510.9 36.6,510.5 37.0,509.9 37.4,508.8 37.8,508.7 38.2,508.1 38.6,506.9 39.0,506.3 39.4,505.3 39.8,505.1 40.2,504.6 40.6,503.6 41.0,503.0 41.4,502.3 41.8,501.1 42.3,500.3 42.8,499.9 43.2,499.5 43.8,498.4 44.2,497.4 44.8,496.4 45.4,495.5 46.1,495.1 46.9,494.4 47.6,493.4 48.4,492.7 49.1,492.9 49.9,493.2 50.7,493.3 51.5,493.2 52.4,493.9 53.2,493.6 53.9,493.6 54.6,494.3 55.1,495.5 55.7,495.9 56.3,495.9 56.9,496.6 57.4,497.3 58.0,498.0 58.6,498.1 59.1,499.6 59.7,499.9 60.3,500.2 60.9,500.6 61.5,501.7 62.0,502.7 62.6,502.7 63.1,502.6 63.6,502.0 64.1,501.1 64.6,499.8 65.0,499.4 65.5,499.0 66.0,498.2 66.5,497.4 67.0,496.5 67.4,496.6 67.8,495.7 68.2,494.6 68.6,494.1 69.0,493.8 69.4,492.3 69.8,492.1 70.2,491.0 70.6,490.9 71.0,490.1 71.4,489.5 71.8,488.3 72.3,487.7 72.9,486.9 73.5,486.4 74.0,486.4 74.6,485.9 75.2,485.7 75.9,485.8 76.5,486.0 77.1,486.9 77.6,487.8 77.9,488.1 78.1,489.4 78.3,490.0 78.6,490.3 78.8,491.1 79.0,492.2 79.3,492.5 79.5,493.3 79.7,494.0 80.0,494.7 80.2,496.3 80.4,497.2 80.7,497.8 80.9,498.3 81.2,499.3 81.4,500.0 81.7,500.6 81.9,501.5 82.1,501.9 82.4,502.8 82.6,503.7 82.9,504.5 83.1,505.6 83.2,505.9 83.4,506.7 83.6,508.2 83.7,508.9 83.9,509.8 84.1,510.5 84.2,510.7 84.4,511.8 84.5,512.9 84.7,513.7 84.9,513.9 85.0,515.0 85.2,515.9 85.3,516.1 85.5,517.1 85.7,518.4 85.8,519.2 86.0,519.7 86.2,520.7 86.4,520.2 86.9,522.6 87.7,522.4 88.5,522.5 89.1,522.8 89.5,521.3 89.9,519.9 90.3,519.5 90.6,518.7 91.0,517.3 91.4,517.1 91.7,515.9 92.1,515.8 92.4,514.6 92.8,513.9 93.2,513.1 93.5,512.9 93.9,512.0 94.3,510.9 94.7,510.7 95.2,509.6 95.9,509.9 96.7,509.4 97.5,509.3 98.2,508.9 98.9,508.8 99.4,508.0 99.8,507.0 100.2,506.4 100.5,505.6 100.9,504.6 101.3,503.9 101.7,503.7 102.1,503.0 102.5,502.4 102.8,501.4 103.2,500.5 103.6,499.6 104.0,499.2 104.3,498.4 104.7,498.0 105.0,497.0 105.3,496.0 105.7,495.1 106.0,494.1 106.3,494.1 106.7,493.1 107.0,492.3 107.3,491.2 107.7,490.9 108.0,490.6 108.3,489.2 108.7,489.0 109.0,488.3 109.3,487.4 109.5,486.6 109.8,485.5 110.1,485.1 110.4,484.3 110.6,483.9 110.9,482.7 111.2,481.8 111.4,481.6 111.7,480.6 112.0,479.5 112.2,479.1 112.5,477.8 112.8,477.1 113.1,477.0 113.3,475.9 113.6,475.4 113.9,474.1 114.2,473.6 114.5,472.6 114.8,472.4 115.2,471.4 115.5,470.5 115.9,469.7 116.2,468.8 116.5,468.0 116.9,467.7 117.2,466.7 117.6,466.5 118.1,467.3 118.6,468.0 119.1,469.2 119.5,469.2 119.9,469.9 120.2,471.3 120.4,471.8 120.6,472.3 120.8,473.0 121.0,473.6 121.2,474.3 121.4,475.4 121.6,476.4 121.8,476.6 122.0,477.8 122.1,478.3 122.3,479.5 122.5,480.0 122.7,481.1 122.9,482.0 123.1,482.4 123.3,483.2 123.5,483.6 123.7,484.5 123.9,485.7 124.2,486.7 124.5,486.7 124.9,488.3 125.3,488.9 125.6,489.1 126.0,490.0 126.4,490.9 126.7,491.3 127.1,492.0 127.4,493.1 127.8,493.1 128.2,492.8 128.5,492.2 128.9,491.0 129.2,490.6 129.6,489.7 129.9,488.9 130.3,488.5 130.6,487.9 130.9,487.0 131.1,486.2 131.2,485.6 131.3,484.5 131.4,484.3 131.4,482.7 131.5,481.7 131.6,481.4 131.7,480.7 131.8,479.6 131.9,478.8 132.0,478.0 132.1,477.1 132.2,476.8 132.3,476.1 132.3,474.7 132.4,474.2 132.5,473.3 132.6,472.1 132.7,471.9 132.8,470.9 132.9,470.6 133.0,469.7 133.1,468.9 133.1,467.4 133.2,466.5 133.3,466.4 133.4,464.8 133.5,464.6 133.6,463.3 133.7,463.0 133.8,461.6 133.9,460.8 134.0,460.8 134.1,459.6 134.2,458.7 134.3,458.5 134.4,457.5 134.6,456.1 134.7,455.8 134.8,454.6 134.9,453.9 135.0,453.0 135.2,452.1 135.3,451.3 135.4,450.5 135.5,449.6 135.7,449.5 135.8,448.2 135.9,447.6 136.0,447.0 136.2,446.1 136.4,444.8 136.7,444.8 137.0,444.1 137.3,443.4 137.7,442.9 138.1,444.0 138.4,444.5 138.8,444.7 139.2,445.8 139.6,446.8 140.0,447.4 140.4,448.4 140.6,448.2 140.8,447.6 140.9,447.0 141.1,445.5 141.2,445.3 141.3,443.6 141.4,443.5 141.6,442.0 141.7,441.6 141.8,440.8 142.0,439.6 142.1,439.3 142.2,438.7 142.3,437.3 142.4,436.5 142.5,436.3 142.6,435.2 142.7,433.9 142.7,433.4 142.8,433.2 142.9,431.8 143.0,431.0 143.1,430.4 143.1,430.0 143.2,429.1 143.3,427.9 143.4,427.4 143.5,425.9 143.5,425.2 143.6,424.7 143.7,424.1 143.8,422.8 143.9,422.1 144.0,422.9 144.1,422.9 144.2,423.6 144.2,424.4 144.3,425.2 144.4,426.2 144.6,427.3 144.7,428.2 144.8,428.6 144.8,429.6 144.9,430.2 145.1,431.3 145.2,431.6 145.2,432.9 145.3,433.1 145.4,434.8 145.5,434.9 145.5,436.1 145.5,436.5 145.6,437.5 145.6,438.2 145.7,439.3 145.7,440.3 145.7,441.1 145.8,442.1 145.8,442.4 145.9,443.2 145.9,443.9 145.9,444.6 146.0,445.6 146.0,446.9 146.1,446.8 146.1,448.2 146.1,448.6 146.2,449.7 146.2,450.2 146.3,451.4 146.3,452.0 146.3,452.6 146.4,453.5 146.4,453.9 146.5,454.8 146.5,456.4 146.5,456.4 146.6,457.5 146.6,458.6 146.7,458.7 146.7,460.4 146.7,460.5 146.8,462.1 146.8,462.3 146.9,463.3 146.9,464.1 146.9,464.4 147.0,465.6 147.0,466.6 147.1,467.5 147.1,468.2 147.1,469.0 147.2,469.2 147.2,470.3 147.3,471.2 147.3,471.5 147.3,473.1 147.4,473.2 147.4,474.5 147.5,475.0 147.5,475.7 147.6,477.3 147.6,477.7 147.7,478.6 147.7,479.3 147.7,480.1 147.8,481.2 147.8,481.2 147.9,482.3 147.9,482.9 148.0,484.1 148.0,484.7 148.0,486.0 148.1,486.1 148.1,487.0 148.2,488.4 148.2,489.0 148.3,489.5 148.3,490.3 148.4,491.4 148.4,491.6 148.4,493.0 148.5,493.3 148.5,494.7 148.6,494.8 148.6,496.4 148.7,497.2 148.7,497.1 148.8,498.1 148.8,499.6 148.8,500.3 148.9,500.6 148.9,501.9 149.0,502.5 149.0,502.9 149.1,504.2 149.1,504.7 149.1,505.2 149.2,506.8 149.2,507.4 149.3,507.7 149.3,508.7 149.4,509.8 149.4,510.3 149.5,511.0 149.5,512.0 149.7,513.2 149.8,513.2 150.0,514.1 150.1,515.1 150.3,516.4 150.5,517.2 150.6,517.0 150.8,518.4 150.9,518.7 151.1,519.5 151.3,520.3 151.5,522.9 152.0,522.5 152.7,521.0 153.5,521.7 154.3,521.4 155.1,522.2 156.0,521.1 156.8,522.4 157.6,523.0 158.4,522.8 159.2,522.0 160.0,522.8 160.8,521.5 161.6,521.5 162.4,522.5 163.2,521.9 164.0,521.9 164.8,521.1 165.6,520.8 166.4,522.9 167.2,522.7 168.0,521.3 168.8,521.1 169.6,520.8 170.4,520.9 171.2,520.9 172.0,522.0 172.8,520.5 173.6,521.5 174.4,520.9 175.2,521.7 175.8,521.4" fill="none" stroke="#000" stroke-width="2.1" stroke-linejoin="round"/>
<polyline points="19.9,521.1 20.4,521.0 20.9,521.0 21.4,520.9 21.9,520.9 22.4,520.8 22.9,520.7 23.4,520.6 23.9,520.5 24.4,520.4 24.9,520.3 25.4,520.2 25.9,520.0 26.4,519.9 26.9,519.7 27.4,519.5 27.9,519.3 28.4,519.0 28.9,518.7 29.4,518.4 29.9,518.1 30.4,517.8 30.9,517.4 31.4,517.0 31.9,516.5 32.4,516.1 32.9,515.5 33.4,515.0 33.9,514.4 34.4,513.8 34.9,513.2 35.4,512.5 35.9,511.8 36.4,511.1 36.9,510.3 37.4,509.5 37.9,508.7 38.4,507.8 38.9,507.0 39.4,506.1 39.9,505.2 40.4,504.3 40.9,503.4 41.4,502.5 41.9,501.7 42.4,500.8 42.9,499.9 43.4,499.1 43.9,498.3 44.4,497.5 44.9,496.8 45.4,496.1 45.9,495.5 46.4,494.9 46.9,494.4 47.4,494.0 47.9,493.7 48.4,493.4 48.9,493.2 49.4,493.0 49.9,493.0 50.4,493.0 50.9,493.2 51.4,493.4 51.9,493.7 52.4,494.0 52.9,494.4 53.4,494.9 53.9,495.5 54.4,496.1 54.9,496.8 55.4,497.5 55.9,498.3 56.4,499.1 56.9,499.9 57.4,500.8 57.9,501.7 58.4,502.5 58.9,503.4 59.4,504.3 59.9,505.2 60.4,506.1 60.9,507.0 61.4,507.8 61.9,508.7 62.4,509.5 62.9,510.3 63.4,511.1 63.9,511.8 64.4,512.5 64.9,513.2 65.4,513.8 65.9,514.4 66.4,515.0 66.9,515.5 67.4,516.1 67.9,516.5 68.4,517.0 68.9,517.4 69.4,517.8 69.9,518.1 70.4,518.4 70.9,518.7 71.4,519.0 71.9,519.3 72.4,519.5 72.9,519.7 73.4,519.9 73.9,520.0 74.4,520.2 74.9,520.3 75.4,520.4 75.9,520.5 76.4,520.6 76.9,520.7 77.4,520.8 77.9,520.9 78.4,520.9 78.9,521.0 79.4,521.0 79.9,521.1" fill="none" stroke="#d820d8" stroke-width="1.7" stroke-linejoin="round"/>
<polyline points="59.9,521.1 60.4,520.9 60.9,520.7 61.4,520.4 61.9,520.1 62.4,519.7 62.9,519.2 63.4,518.6 63.9,517.8 64.4,517.0 64.9,516.1 65.4,514.9 65.9,513.7 66.4,512.3 66.9,510.7 67.4,509.0 67.9,507.2 68.4,505.2 68.9,503.2 69.4,501.1 69.9,499.0 70.4,496.9 70.9,494.8 71.4,492.8 71.9,491.0 72.4,489.3 72.9,487.9 73.4,486.7 73.9,485.8 74.4,485.2 74.9,485.0 75.4,485.1 75.9,485.5 76.4,486.3 76.9,487.4 77.4,488.7 77.9,490.3 78.4,492.0 78.9,494.0 79.4,496.0 79.9,498.1 80.4,500.3 80.9,502.4 81.4,504.4 81.9,506.4 82.4,508.3 82.9,510.1 83.4,511.7 83.9,513.1 84.4,514.5 84.9,515.6 85.4,516.6 85.9,517.5 86.4,518.3 86.9,518.9 87.4,519.5 87.9,519.9 88.4,520.3 88.9,520.6 89.4,520.8 89.9,521.0" fill="none" stroke="#28e0e0" stroke-width="1.7" stroke-linejoin="round"/>
<polyline points="74.9,520.3 75.4,520.3 75.9,520.2 76.4,520.2 76.9,520.2 77.4,520.1 77.9,520.1 78.4,520.1 78.9,520.0 79.4,520.0 79.9,519.9 80.4,519.9 80.9,519.9 81.4,519.8 81.9,519.7 82.4,519.7 82.9,519.6 83.4,519.6 83.9,519.5 84.4,519.4 84.9,519.4 85.4,519.3 85.9,519.2 86.4,519.1 86.9,519.0 87.4,518.9 87.9,518.8 88.4,518.7 88.9,518.5 89.4,518.4 89.9,518.2 90.4,518.0 90.9,517.9 91.4,517.7 91.9,517.4 92.4,517.2 92.9,516.9 93.4,516.6 93.9,516.3 94.4,516.0 94.9,515.6 95.4,515.2 95.9,514.8 96.4,514.4 96.9,513.9 97.4,513.3 97.9,512.8 98.4,512.2 98.9,511.5 99.4,510.8 99.9,510.1 100.4,509.3 100.9,508.5 101.4,507.6 101.9,506.7 102.4,505.7 102.9,504.7 103.4,503.6 103.9,502.5 104.4,501.4 104.9,500.2 105.4,499.0 105.9,497.7 106.4,496.4 106.9,495.1 107.4,493.7 107.9,492.4 108.4,491.0 108.9,489.6 109.4,488.2 109.9,486.8 110.4,485.4 110.9,484.1 111.4,482.8 111.9,481.5 112.4,480.3 112.9,479.2 113.4,478.1 113.9,477.1 114.4,476.3 114.9,475.5 115.4,474.9 115.9,474.4 116.4,474.0 116.9,473.8 117.4,473.7 117.9,473.8 118.4,474.0 118.9,474.5 119.4,475.1 119.9,475.8 120.4,476.7 120.9,477.7 121.4,478.8 121.9,480.0 122.4,481.3 122.9,482.7 123.4,484.1 123.9,485.5 124.4,487.0 124.9,488.5 125.4,490.0 125.9,491.5 126.4,493.0 126.9,494.5 127.4,496.0 127.9,497.4 128.4,498.8 128.9,500.1 129.4,501.4 129.9,502.6 130.4,503.8 130.9,505.0 131.4,506.1 131.9,507.1 132.4,508.1 132.9,509.0 133.4,509.8 133.9,510.7 134.4,511.4 134.9,512.1 135.4,512.8 135.9,513.4 136.4,514.0 136.9,514.5 137.4,515.0 137.9,515.4 138.4,515.8 138.9,516.2 139.4,516.5 139.9,516.9 140.4,517.1 140.9,517.4 141.4,517.7 141.9,517.9 142.4,518.1 142.9,518.3 143.4,518.4 143.9,518.6 144.4,518.7 144.9,518.9 145.4,519.0 145.9,519.1 146.4,519.2 146.9,519.3 147.4,519.4 147.9,519.4 148.4,519.5 148.9,519.6 149.4,519.7 149.9,519.7 150.4,519.8 150.9,519.8 151.4,519.9 151.9,519.9 152.4,520.0 152.9,520.0 153.4,520.1 153.9,520.1 154.4,520.1 154.9,520.2 155.4,520.2 155.9,520.2 156.4,520.3" fill="none" stroke="#1c24c8" stroke-width="1.7" stroke-linejoin="round"/>
<polyline points="125.9,521.1 126.4,520.8 126.9,520.5 127.4,520.0 127.9,519.3 128.4,518.3 128.9,517.1 129.4,515.5 129.9,513.5 130.4,511.0 130.9,508.0 131.4,504.5 131.9,500.3 132.4,495.6 132.9,490.5 133.4,484.9 133.9,479.1 134.4,473.2 134.9,467.4 135.4,462.0 135.9,457.2 136.4,453.1 136.9,450.1 137.4,448.2 137.9,447.6 138.4,448.2 138.9,450.1 139.4,453.1 139.9,457.2 140.4,462.0 140.9,467.4 141.4,473.2 141.9,479.1 142.4,484.9 142.9,490.5 143.4,495.6 143.9,500.3 144.4,504.5 144.9,508.0 145.4,511.0 145.9,513.5 146.4,515.5 146.9,517.1 147.4,518.3 147.9,519.3 148.4,520.0 148.9,520.5 149.4,520.8 149.9,521.1" fill="none" stroke="#1a8a8a" stroke-width="1.7" stroke-linejoin="round"/>
<polyline points="139.4,520.9 139.9,520.0 140.4,518.1 140.9,514.7 141.4,509.1 141.9,500.7 142.4,489.7 142.9,477.0 143.4,464.2 143.9,454.0 144.4,448.5 144.9,449.1 145.4,455.7 145.9,466.7 146.4,479.6 146.9,492.1 147.4,502.6 147.9,510.4 148.4,515.5 148.9,518.6 149.4,520.2 149.9,521.0" fill="none" stroke="#e01c1c" stroke-width="1.9" stroke-linejoin="round"/>
<line x1="11.4" y1="521.6" x2="176.4" y2="521.6" stroke="#d82020" stroke-width="1.7"/>
<text x="31.7" y="488" font-family="Liberation Sans, sans-serif" font-size="5.9" fill="#1a1a1a" stroke="#1a1a1a" stroke-width="0.12">Satellite 1</text>
<text x="68.2" y="480.4" font-family="Liberation Sans, sans-serif" font-size="5.9" fill="#1a1a1a" stroke="#1a1a1a" stroke-width="0.12">2p<tspan font-size="3.4" dy="1.3">1/2</tspan></text>
<text x="86.4" y="487" font-family="Liberation Sans, sans-serif" font-size="5.9" fill="#1a1a1a" stroke="#1a1a1a" stroke-width="0.12">Ni<tspan font-size="3.4" dy="-2.4">2+</tspan></text>
<text x="97" y="464.1" font-family="Liberation Sans, sans-serif" font-size="5.9" fill="#1a1a1a" stroke="#1a1a1a" stroke-width="0.12">Satellite 2</text>
<text x="139.3" y="420.4" font-family="Liberation Sans, sans-serif" font-size="5.9" fill="#1a1a1a" stroke="#1a1a1a" stroke-width="0.12">2p<tspan font-size="3.4" dy="1.3">3/2</tspan></text>
<text x="125.8" y="439.7" font-family="Liberation Sans, sans-serif" font-size="5.9" fill="#1a1a1a" stroke="#1a1a1a" stroke-width="0.12">Ni<tspan font-size="3.4" dy="-2.4">3+</tspan></text>
<text x="156.5" y="451.4" font-family="Liberation Sans, sans-serif" font-size="5.9" fill="#1a1a1a" stroke="#1a1a1a" stroke-width="0.12">Ni<tspan font-size="3.4" dy="-2.4">2+</tspan></text>
<line x1="78.6" y1="491.7" x2="86.4" y2="488.9" stroke="#1a2ad0" stroke-width="0.7"/>
<path d="M86.4,488.9 L84.9,490.5 L84.2,488.7Z" fill="#1a2ad0"/>
<line x1="135.2" y1="447.2" x2="131" y2="440.3" stroke="#1a2ad0" stroke-width="0.7"/>
<path d="M131,440.3 L132.8,441.5 L131.2,442.5Z" fill="#1a2ad0"/>
<line x1="145.6" y1="450.1" x2="154.4" y2="448.7" stroke="#1a2ad0" stroke-width="0.7"/>
<path d="M154.4,448.7 L152.6,450.0 L152.3,448.1Z" fill="#1a2ad0"/>
<rect x="199.0" y="411" width="164.9" height="115.0" fill="none" stroke="#777" stroke-width="1.1"/>
<line x1="199.0" y1="526" x2="363.9" y2="526" stroke="#333" stroke-width="0.9"/>
<line x1="199.0" y1="526" x2="199.0" y2="528.2" stroke="#333" stroke-width="0.7"/>
<text x="199.0" y="533.9" font-family="Liberation Sans, sans-serif" font-size="4.9" text-anchor="middle" fill="#333">890</text>
<line x1="217.3" y1="526" x2="217.3" y2="528.2" stroke="#333" stroke-width="0.7"/>
<text x="217.3" y="533.9" font-family="Liberation Sans, sans-serif" font-size="4.9" text-anchor="middle" fill="#333">885</text>
<line x1="235.6" y1="526" x2="235.6" y2="528.2" stroke="#333" stroke-width="0.7"/>
<text x="235.6" y="533.9" font-family="Liberation Sans, sans-serif" font-size="4.9" text-anchor="middle" fill="#333">880</text>
<line x1="254.0" y1="526" x2="254.0" y2="528.2" stroke="#333" stroke-width="0.7"/>
<text x="254.0" y="533.9" font-family="Liberation Sans, sans-serif" font-size="4.9" text-anchor="middle" fill="#333">875</text>
<line x1="272.3" y1="526" x2="272.3" y2="528.2" stroke="#333" stroke-width="0.7"/>
<text x="272.3" y="533.9" font-family="Liberation Sans, sans-serif" font-size="4.9" text-anchor="middle" fill="#333">870</text>
<line x1="290.6" y1="526" x2="290.6" y2="528.2" stroke="#333" stroke-width="0.7"/>
<text x="290.6" y="533.9" font-family="Liberation Sans, sans-serif" font-size="4.9" text-anchor="middle" fill="#333">865</text>
<line x1="308.9" y1="526" x2="308.9" y2="528.2" stroke="#333" stroke-width="0.7"/>
<text x="308.9" y="533.9" font-family="Liberation Sans, sans-serif" font-size="4.9" text-anchor="middle" fill="#333">860</text>
<line x1="327.3" y1="526" x2="327.3" y2="528.2" stroke="#333" stroke-width="0.7"/>
<text x="327.3" y="533.9" font-family="Liberation Sans, sans-serif" font-size="4.9" text-anchor="middle" fill="#333">855</text>
<line x1="345.6" y1="526" x2="345.6" y2="528.2" stroke="#333" stroke-width="0.7"/>
<text x="345.6" y="533.9" font-family="Liberation Sans, sans-serif" font-size="4.9" text-anchor="middle" fill="#333">850</text>
<line x1="363.9" y1="526" x2="363.9" y2="528.2" stroke="#333" stroke-width="0.7"/>
<text x="363.9" y="533.9" font-family="Liberation Sans, sans-serif" font-size="4.9" text-anchor="middle" fill="#333">845</text>
<line x1="208.2" y1="526" x2="208.2" y2="527.3" stroke="#333" stroke-width="0.6"/>
<line x1="226.5" y1="526" x2="226.5" y2="527.3" stroke="#333" stroke-width="0.6"/>
<line x1="244.8" y1="526" x2="244.8" y2="527.3" stroke="#333" stroke-width="0.6"/>
<line x1="263.1" y1="526" x2="263.1" y2="527.3" stroke="#333" stroke-width="0.6"/>
<line x1="281.4" y1="526" x2="281.4" y2="527.3" stroke="#333" stroke-width="0.6"/>
<line x1="299.8" y1="526" x2="299.8" y2="527.3" stroke="#333" stroke-width="0.6"/>
<line x1="318.1" y1="526" x2="318.1" y2="527.3" stroke="#333" stroke-width="0.6"/>
<line x1="336.4" y1="526" x2="336.4" y2="527.3" stroke="#333" stroke-width="0.6"/>
<line x1="354.7" y1="526" x2="354.7" y2="527.3" stroke="#333" stroke-width="0.6"/>
<text x="281.7" y="543.8" font-family="Liberation Sans, sans-serif" font-size="6.15" font-weight="bold" text-anchor="middle" fill="#111" stroke="#111" stroke-width="0.18">Binding energy(ev)</text>
<text transform="translate(195.6,473.9) rotate(-90)" font-family="Liberation Sans, sans-serif" font-size="6.2" font-weight="bold" text-anchor="middle" fill="#111" stroke="#111" stroke-width="0.18">Intensity(a.u)</text>
<text x="201.6" y="418.1" font-family="Liberation Sans, sans-serif" font-size="5.8" fill="#111">Ni 2p</text>
<text x="270" y="421.3" font-family="Liberation Sans, sans-serif" font-size="4.6" font-weight="bold" fill="#111">(4)</text>
<rect x="201.6" y="424.7" width="35.7" height="36.9" fill="#fff" stroke="#aaa" stroke-width="0.6"/>
<line x1="202.2" y1="428.8" x2="213.6" y2="428.8" stroke="#111" stroke-width="1.6"/>
<text x="214.6" y="430.6" font-family="Liberation Sans, sans-serif" font-size="4.85" fill="#111">Raw data</text>
<line x1="202.2" y1="434.8" x2="213.6" y2="434.8" stroke="#d820d8" stroke-width="1.6"/>
<text x="214.6" y="436.6" font-family="Liberation Sans, sans-serif" font-size="4.85" fill="#111">Fit peak 1</text>
<line x1="202.2" y1="440.8" x2="213.6" y2="440.8" stroke="#28e0e0" stroke-width="1.6"/>
<text x="214.6" y="442.6" font-family="Liberation Sans, sans-serif" font-size="4.85" fill="#111">Fit peak 2</text>
<line x1="202.2" y1="446.8" x2="213.6" y2="446.8" stroke="#1c24c8" stroke-width="1.6"/>
<text x="214.6" y="448.6" font-family="Liberation Sans, sans-serif" font-size="4.85" fill="#111">Fit peak 3</text>
<line x1="202.2" y1="452.8" x2="213.6" y2="452.8" stroke="#1a8a8a" stroke-width="1.6"/>
<text x="214.6" y="454.6" font-family="Liberation Sans, sans-serif" font-size="4.85" fill="#111">Fit peak 4</text>
<line x1="202.2" y1="458.8" x2="213.6" y2="458.8" stroke="#e01c1c" stroke-width="1.6"/>
<text x="214.6" y="460.6" font-family="Liberation Sans, sans-serif" font-size="4.85" fill="#111">Fit peak 5</text>
<polyline points="199.4,524.9 199.8,523.4 200.6,522.6 201.5,524.4 202.3,522.2 203.1,522.7 203.9,524.6 204.7,524.1 205.5,523.1 206.4,522.4 207.2,524.3 208.0,524.3 208.8,522.7 209.6,524.4 210.4,523.9 211.2,523.1 212.0,522.3 212.8,522.2 213.6,523.6 214.3,524.1 214.8,522.2 215.4,522.0 215.9,520.6 216.5,519.6 217.1,519.4 217.6,519.2 218.2,518.5 218.7,518.0 219.2,518.0 219.7,517.7 220.1,517.4 220.5,516.6 221.0,515.8 221.4,515.4 221.8,514.9 222.3,514.4 222.7,514.1 223.1,513.1 223.6,512.8 224.0,511.6 224.4,510.9 224.8,509.8 225.2,509.4 225.6,508.9 226.0,507.7 226.4,507.4 226.8,506.3 227.2,505.7 227.6,505.6 228.0,504.8 228.4,503.2 228.8,502.9 229.3,502.0 229.8,500.6 230.2,499.9 230.8,499.2 231.2,498.3 231.8,497.6 232.2,496.2 232.8,496.0 233.3,495.2 233.9,494.0 234.6,493.7 235.2,493.6 235.8,493.1 236.5,493.0 237.1,492.6 237.9,492.8 238.7,492.7 239.4,493.2 240.2,493.1 241.0,493.7 241.6,494.3 242.2,494.7 242.9,495.3 243.5,495.6 244.1,496.2 244.8,497.0 245.4,497.4 246.0,497.9 246.6,498.5 247.2,498.9 247.8,499.9 248.4,500.7 249.0,500.6 249.6,501.6 250.2,502.1 250.8,502.6 251.4,502.6 251.9,501.8 252.4,500.8 252.9,500.5 253.4,500.0 254.0,499.4 254.5,499.1 255.0,498.1 255.4,497.4 255.7,496.4 256.1,496.1 256.5,494.7 256.8,494.7 257.2,493.6 257.5,492.9 257.9,492.4 258.3,491.5 258.6,491.2 259.0,489.6 259.5,488.9 259.9,488.7 260.4,487.7 260.8,487.0 261.3,487.1 261.7,485.9 262.2,485.2 262.7,485.1 263.4,485.4 264.0,486.0 264.7,486.4 265.2,487.9 265.6,488.3 266.1,488.7 266.5,489.1 266.9,490.7 267.3,491.3 267.8,491.3 268.2,492.8 268.5,493.2 268.8,494.4 268.9,494.6 269.1,495.4 269.2,495.8 269.4,497.1 269.6,497.6 269.7,499.0 269.9,499.2 270.0,500.6 270.2,500.9 270.4,502.1 270.5,502.8 270.7,503.8 270.8,504.3 271.0,504.9 271.2,505.6 271.3,506.3 271.5,507.0 271.7,507.9 271.9,508.8 272.0,510.0 272.2,510.0 272.4,511.3 272.5,512.1 272.7,512.5 272.9,513.9 273.0,514.2 273.2,515.5 273.4,515.7 273.6,517.2 273.7,517.4 273.9,518.0 274.1,518.8 274.2,519.7 274.4,520.4 274.6,521.3 274.7,522.5 275.0,523.5 275.5,522.0 276.3,523.5 277.1,522.4 277.9,524.7 278.4,523.2 278.8,521.3 279.2,521.2 279.6,520.5 280.0,519.7 280.4,519.5 280.8,518.1 281.2,517.6 281.6,517.3 282.0,515.9 282.4,516.1 282.8,515.0 283.2,514.3 283.6,513.1 284.0,512.4 284.4,512.4 284.9,511.9 285.6,510.6 286.5,511.1 287.3,510.2 288.2,509.8 288.9,510.0 289.4,508.9 289.7,508.9 290.1,508.1 290.5,506.8 290.9,505.9 291.2,505.6 291.6,505.1 292.0,503.6 292.3,503.5 292.7,502.2 293.1,501.7 293.4,500.8 293.8,500.0 294.2,499.7 294.5,498.7 294.8,498.5 295.1,497.8 295.4,496.9 295.7,495.9 296.0,495.3 296.3,494.2 296.7,493.6 297.0,492.9 297.3,492.0 297.6,491.3 297.9,491.0 298.2,490.4 298.5,489.4 298.8,488.7 299.1,487.4 299.3,486.4 299.6,485.8 299.8,485.3 300.0,484.8 300.3,484.0 300.5,483.4 300.7,482.5 301.0,481.3 301.2,480.2 301.4,479.9 301.7,479.0 301.9,478.8 302.1,478.0 302.4,476.9 302.7,476.3 303.0,475.5 303.2,474.5 303.5,473.7 303.8,473.4 304.0,472.5 304.3,471.5 304.6,471.1 304.9,469.7 305.3,470.2 305.8,470.5 306.4,470.9 306.9,471.4 307.5,472.4 307.9,473.4 308.2,473.5 308.4,475.0 308.6,475.9 308.8,475.9 309.1,477.0 309.3,477.7 309.5,478.4 309.7,478.9 309.9,479.9 310.1,481.3 310.3,482.0 310.5,482.9 310.7,483.3 310.9,484.1 311.2,484.4 311.4,485.6 311.6,486.5 311.8,487.7 312.1,487.5 312.4,488.9 312.8,488.9 313.2,490.6 313.6,490.5 314.1,491.7 314.5,492.3 314.9,492.6 315.3,493.5 315.7,494.0 316.1,493.8 316.4,493.4 316.8,492.3 317.1,492.2 317.4,491.8 317.8,490.6 318.1,489.7 318.5,489.1 318.8,488.0 319.0,487.8 319.1,487.0 319.2,485.6 319.3,485.1 319.4,484.0 319.5,483.8 319.6,482.3 319.6,482.4 319.7,480.8 319.8,480.7 319.9,479.3 320.0,478.8 320.1,478.2 320.2,477.6 320.2,476.8 320.3,475.3 320.4,475.0 320.5,473.9 320.6,472.9 320.7,472.4 320.8,472.0 320.8,470.3 320.9,470.2 321.0,469.2 321.1,468.8 321.2,467.6 321.3,466.5 321.4,466.4 321.4,464.8 321.5,464.6 321.6,463.4 321.7,462.4 321.8,461.7 321.9,461.6 322.0,460.1 322.0,460.0 322.1,458.4 322.2,458.4 322.3,456.7 322.4,456.5 322.4,455.5 322.5,454.8 322.6,454.3 322.7,452.8 322.8,452.7 322.8,451.5 322.9,450.9 323.0,449.6 323.1,449.5 323.1,448.4 323.2,447.3 323.3,446.3 323.4,446.1 323.5,445.0 323.7,444.6 324.0,443.8 324.3,442.9 324.6,442.2 325.0,441.7 325.4,443.0 325.8,443.6 326.2,443.7 326.6,444.4 327.0,445.2 327.5,446.0 327.8,446.8 328.0,446.5 328.2,445.6 328.3,444.4 328.5,444.2 328.6,442.6 328.7,441.8 328.9,441.2 329.0,440.2 329.2,439.9 329.3,439.2 329.4,438.3 329.6,437.0 329.7,436.5 329.8,435.4 329.9,434.8 330.0,434.0 330.1,432.8 330.2,432.7 330.3,431.9 330.4,431.0 330.5,429.6 330.5,428.9 330.6,428.6 330.7,427.9 330.8,426.9 330.9,426.4 331.0,425.1 331.1,424.1 331.2,423.5 331.2,422.5 331.3,421.8 331.4,421.4 331.5,420.1 331.6,420.2 331.7,420.4 331.8,420.7 331.9,422.0 332.0,423.2 332.1,423.8 332.2,424.8 332.4,425.4 332.5,426.6 332.6,426.4 332.7,427.6 332.8,428.2 332.9,429.6 333.0,430.0 333.1,431.2 333.1,432.0 333.2,432.1 333.2,433.5 333.3,434.0 333.3,434.8 333.3,436.0 333.4,436.8 333.4,437.1 333.5,438.4 333.5,438.6 333.5,439.4 333.6,441.0 333.6,441.9 333.6,442.7 333.7,443.6 333.7,444.1 333.8,444.7 333.8,445.5 333.8,446.3 333.9,447.5 333.9,448.4 334.0,448.6 334.0,449.2 334.0,450.3 334.1,451.0 334.1,452.2 334.2,453.1 334.2,453.6 334.2,453.9 334.3,455.2 334.3,455.6 334.4,456.8 334.4,457.9 334.4,458.5 334.5,459.1 334.5,459.6 334.5,461.2 334.6,461.9 334.6,462.3 334.7,462.7 334.7,464.1 334.7,464.7 334.8,465.5 334.8,466.3 334.9,467.0 334.9,467.6 334.9,468.9 335.0,469.6 335.0,470.3 335.1,471.5 335.1,472.0 335.1,472.5 335.2,473.4 335.2,474.5 335.3,475.4 335.3,476.1 335.4,477.0 335.4,477.5 335.4,478.7 335.5,479.3 335.5,479.8 335.6,480.4 335.6,481.7 335.6,482.7 335.7,483.7 335.7,484.3 335.8,485.1 335.8,485.7 335.9,486.1 335.9,487.0 335.9,488.4 336.0,488.6 336.0,489.6 336.1,490.4 336.1,490.7 336.2,491.6 336.2,492.5 336.2,493.9 336.3,494.7 336.3,494.8 336.4,495.7 336.4,497.3 336.4,497.3 336.5,498.7 336.5,499.3 336.6,500.4 336.6,501.0 336.7,501.2 336.7,502.7 336.7,503.4 336.8,503.5 336.8,505.2 336.9,505.4 336.9,506.4 336.9,507.2 337.0,508.1 337.0,508.9 337.1,509.2 337.1,510.8 337.2,511.2 337.2,511.6 337.4,512.8 337.5,513.3 337.7,514.3 337.8,515.4 338.0,516.2 338.2,516.4 338.3,517.3 338.5,518.8 338.6,519.3 338.8,519.6 338.9,520.8 339.1,521.3 339.3,522.3 339.5,521.8 340.0,524.7 340.7,523.7 341.5,522.1 342.3,521.9 343.1,524.7 344.0,522.2 344.8,522.8 345.6,522.6 346.4,522.9 347.2,522.8 348.0,522.8 348.8,524.4 349.6,523.1 350.4,524.9 351.2,522.6 352.0,524.1 352.8,523.3 353.6,522.8 354.4,523.7 355.2,524.6 356.0,523.0 356.8,523.3 357.7,524.2 358.5,522.6 359.3,522.0 360.2,523.0 361.0,524.6 361.8,524.0 362.7,523.7 363.3,523.1" fill="none" stroke="#000" stroke-width="2.1" stroke-linejoin="round"/>
<polyline points="207.0,522.8 207.5,522.7 208.0,522.7 208.5,522.6 209.0,522.6 209.5,522.5 210.0,522.4 210.5,522.4 211.0,522.3 211.5,522.2 212.0,522.0 212.5,521.9 213.0,521.8 213.5,521.6 214.0,521.4 214.5,521.2 215.0,521.0 215.5,520.8 216.0,520.5 216.5,520.2 217.0,519.9 217.5,519.5 218.0,519.2 218.5,518.8 219.0,518.3 219.5,517.8 220.0,517.3 220.5,516.8 221.0,516.2 221.5,515.6 222.0,514.9 222.5,514.2 223.0,513.5 223.5,512.7 224.0,511.9 224.5,511.1 225.0,510.3 225.5,509.4 226.0,508.5 226.5,507.6 227.0,506.6 227.5,505.7 228.0,504.7 228.5,503.7 229.0,502.8 229.5,501.8 230.0,500.9 230.5,500.0 231.0,499.1 231.5,498.2 232.0,497.4 232.5,496.6 233.0,495.9 233.5,495.2 234.0,494.6 234.5,494.1 235.0,493.6 235.5,493.2 236.0,492.9 236.5,492.7 237.0,492.5 237.5,492.5 238.0,492.5 238.5,492.7 239.0,492.9 239.5,493.2 240.0,493.6 240.5,494.1 241.0,494.6 241.5,495.2 242.0,495.9 242.5,496.6 243.0,497.4 243.5,498.2 244.0,499.1 244.5,500.0 245.0,500.9 245.5,501.8 246.0,502.8 246.5,503.7 247.0,504.7 247.5,505.7 248.0,506.6 248.5,507.6 249.0,508.5 249.5,509.4 250.0,510.3 250.5,511.1 251.0,511.9 251.5,512.7 252.0,513.5 252.5,514.2 253.0,514.9 253.5,515.6 254.0,516.2 254.5,516.8 255.0,517.3 255.5,517.8 256.0,518.3 256.5,518.8 257.0,519.2 257.5,519.5 258.0,519.9 258.5,520.2 259.0,520.5 259.5,520.8 260.0,521.0 260.5,521.2 261.0,521.4 261.5,521.6 262.0,521.8 262.5,521.9 263.0,522.0 263.5,522.2 264.0,522.3 264.5,522.4 265.0,522.4 265.5,522.5 266.0,522.6 266.5,522.6 267.0,522.7 267.5,522.7 268.0,522.8" fill="none" stroke="#d820d8" stroke-width="1.7" stroke-linejoin="round"/>
<polyline points="247.5,522.7 248.0,522.5 248.5,522.2 249.0,521.9 249.5,521.5 250.0,521.1 250.5,520.5 251.0,519.8 251.5,519.1 252.0,518.1 252.5,517.1 253.0,515.8 253.5,514.5 254.0,512.9 254.5,511.3 255.0,509.4 255.5,507.5 256.0,505.4 256.5,503.2 257.0,501.0 257.5,498.8 258.0,496.6 258.5,494.5 259.0,492.5 259.5,490.6 260.0,489.0 260.5,487.6 261.0,486.5 261.5,485.7 262.0,485.2 262.5,485.1 263.0,485.4 263.5,485.9 264.0,486.9 264.5,488.1 265.0,489.6 265.5,491.3 266.0,493.2 266.5,495.3 267.0,497.5 267.5,499.7 268.0,501.9 268.5,504.1 269.0,506.2 269.5,508.3 270.0,510.2 270.5,511.9 271.0,513.6 271.5,515.0 272.0,516.4 272.5,517.5 273.0,518.5 273.5,519.4 274.0,520.1 274.5,520.8 275.0,521.3 275.5,521.7 276.0,522.1 276.5,522.3 277.0,522.6 277.5,522.7" fill="none" stroke="#28e0e0" stroke-width="1.7" stroke-linejoin="round"/>
<polyline points="263.0,522.0 263.5,522.0 264.0,521.9 264.5,521.9 265.0,521.9 265.5,521.8 266.0,521.8 266.5,521.8 267.0,521.7 267.5,521.7 268.0,521.6 268.5,521.6 269.0,521.5 269.5,521.5 270.0,521.4 270.5,521.4 271.0,521.3 271.5,521.3 272.0,521.2 272.5,521.1 273.0,521.0 273.5,520.9 274.0,520.9 274.5,520.8 275.0,520.7 275.5,520.5 276.0,520.4 276.5,520.3 277.0,520.1 277.5,520.0 278.0,519.8 278.5,519.6 279.0,519.4 279.5,519.2 280.0,519.0 280.5,518.7 281.0,518.4 281.5,518.1 282.0,517.8 282.5,517.5 283.0,517.1 283.5,516.7 284.0,516.2 284.5,515.7 285.0,515.2 285.5,514.7 286.0,514.1 286.5,513.4 287.0,512.8 287.5,512.0 288.0,511.3 288.5,510.5 289.0,509.6 289.5,508.7 290.0,507.8 290.5,506.8 291.0,505.7 291.5,504.6 292.0,503.5 292.5,502.3 293.0,501.1 293.5,499.9 294.0,498.6 294.5,497.3 295.0,496.0 295.5,494.7 296.0,493.3 296.5,491.9 297.0,490.6 297.5,489.2 298.0,487.9 298.5,486.6 299.0,485.3 299.5,484.0 300.0,482.9 300.5,481.7 301.0,480.7 301.5,479.8 302.0,478.9 302.5,478.2 303.0,477.5 303.5,477.0 304.0,476.7 304.5,476.5 305.0,476.4 305.5,476.5 306.0,476.7 306.5,477.2 307.0,477.7 307.5,478.5 308.0,479.3 308.5,480.3 309.0,481.4 309.5,482.6 310.0,483.8 310.5,485.2 311.0,486.6 311.5,488.0 312.0,489.4 312.5,490.9 313.0,492.4 313.5,493.9 314.0,495.3 314.5,496.8 315.0,498.2 315.5,499.6 316.0,500.9 316.5,502.2 317.0,503.5 317.5,504.7 318.0,505.9 318.5,507.0 319.0,508.1 319.5,509.1 320.0,510.0 320.5,510.9 321.0,511.8 321.5,512.6 322.0,513.3 322.5,514.0 323.0,514.7 323.5,515.3 324.0,515.8 324.5,516.3 325.0,516.8 325.5,517.2 326.0,517.6 326.5,518.0 327.0,518.4 327.5,518.7 328.0,518.9 328.5,519.2 329.0,519.4 329.5,519.7 330.0,519.9 330.5,520.0 331.0,520.2 331.5,520.3 332.0,520.5 332.5,520.6 333.0,520.7 333.5,520.8 334.0,520.9 334.5,521.0 335.0,521.1 335.5,521.2 336.0,521.3 336.5,521.3 337.0,521.4 337.5,521.5 338.0,521.5 338.5,521.6 339.0,521.6 339.5,521.7 340.0,521.7 340.5,521.8 341.0,521.8 341.5,521.8 342.0,521.9 342.5,521.9 343.0,521.9 343.5,522.0" fill="none" stroke="#1c24c8" stroke-width="1.7" stroke-linejoin="round"/>
<polyline points="313.5,522.7 314.0,522.4 314.5,521.9 315.0,521.4 315.5,520.5 316.0,519.5 316.5,518.0 317.0,516.2 317.5,514.0 318.0,511.2 318.5,507.8 319.0,503.9 319.5,499.4 320.0,494.3 320.5,488.8 321.0,482.9 321.5,476.8 322.0,470.7 322.5,464.8 323.0,459.4 323.5,454.7 324.0,451.0 324.5,448.3 325.0,446.8 325.5,446.7 326.0,447.9 326.5,450.3 327.0,453.9 327.5,458.4 328.0,463.7 328.5,469.5 329.0,475.6 329.5,481.7 330.0,487.6 330.5,493.2 331.0,498.4 331.5,503.0 332.0,507.1 332.5,510.6 333.0,513.5 333.5,515.8 334.0,517.7 334.5,519.2 335.0,520.3 335.5,521.2 336.0,521.8 336.5,522.3 337.0,522.6" fill="none" stroke="#1a8a8a" stroke-width="1.7" stroke-linejoin="round"/>
<polyline points="327.0,522.6 327.5,521.6 328.0,519.7 328.5,516.2 329.0,510.4 329.5,501.7 330.0,490.4 330.5,477.1 331.0,464.0 331.5,453.4 332.0,447.7 332.5,448.4 333.0,455.2 333.5,466.5 334.0,479.9 334.5,492.8 335.0,503.7 335.5,511.7 336.0,517.0 336.5,520.2 337.0,521.9 337.5,522.7" fill="none" stroke="#e01c1c" stroke-width="1.9" stroke-linejoin="round"/>
<line x1="199.0" y1="523.3" x2="363.9" y2="523.3" stroke="#d82020" stroke-width="1.7"/>
<text x="218" y="488.9" font-family="Liberation Sans, sans-serif" font-size="5.9" fill="#1a1a1a" stroke="#1a1a1a" stroke-width="0.12">Satellite 1</text>
<text x="255.4" y="479" font-family="Liberation Sans, sans-serif" font-size="5.9" fill="#1a1a1a" stroke="#1a1a1a" stroke-width="0.12">2p<tspan font-size="3.4" dy="1.3">1/2</tspan></text>
<text x="274.2" y="486" font-family="Liberation Sans, sans-serif" font-size="5.9" fill="#1a1a1a" stroke="#1a1a1a" stroke-width="0.12">Ni<tspan font-size="3.4" dy="-2.4">2+</tspan></text>
<text x="286.3" y="465.9" font-family="Liberation Sans, sans-serif" font-size="5.9" fill="#1a1a1a" stroke="#1a1a1a" stroke-width="0.12">Satellite 2</text>
<text x="328.8" y="418" font-family="Liberation Sans, sans-serif" font-size="5.9" fill="#1a1a1a" stroke="#1a1a1a" stroke-width="0.12">2p<tspan font-size="3.4" dy="1.3">3/2</tspan></text>
<text x="312.8" y="439.5" font-family="Liberation Sans, sans-serif" font-size="5.9" fill="#1a1a1a" stroke="#1a1a1a" stroke-width="0.12">Ni<tspan font-size="3.4" dy="-2.4">3+</tspan></text>
<text x="344.7" y="446" font-family="Liberation Sans, sans-serif" font-size="5.9" fill="#1a1a1a" stroke="#1a1a1a" stroke-width="0.12">Ni<tspan font-size="3.4" dy="-2.4">2+</tspan></text>
<line x1="268.6" y1="488" x2="275" y2="485.2" stroke="#1a2ad0" stroke-width="0.7"/>
<path d="M275,485.2 L273.6,486.9 L272.8,485.1Z" fill="#1a2ad0"/>
<line x1="322.2" y1="447.2" x2="317.6" y2="439.3" stroke="#1a2ad0" stroke-width="0.7"/>
<path d="M317.6,439.3 L319.4,440.5 L317.8,441.5Z" fill="#1a2ad0"/>
<line x1="333.7" y1="448.7" x2="343.5" y2="443.8" stroke="#1a2ad0" stroke-width="0.7"/>
<path d="M343.5,443.8 L342.2,445.5 L341.3,443.8Z" fill="#1a2ad0"/>
<text x="189" y="268.2" font-family="Liberation Sans, sans-serif" font-size="6.2" font-weight="bold" fill="#111">(b)</text>
</svg></body></html>
